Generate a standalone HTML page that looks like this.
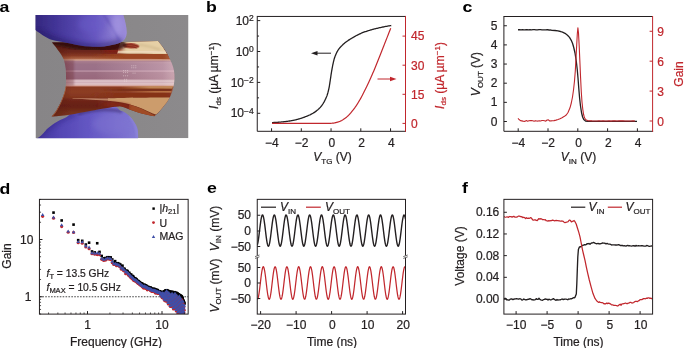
<!DOCTYPE html>
<html lang="en"><head><meta charset="utf-8"><title>Figure</title>
<style>
html,body{margin:0;padding:0;background:#fff;}
body{width:685px;height:348px;overflow:hidden;}
svg{display:block;font-family:"Liberation Sans",Arial,Helvetica,sans-serif;}
</style></head><body>
<svg width="685" height="348" viewBox="0 0 685 348">
<rect width="685" height="348" fill="#fff"/>
<defs>
<clipPath id="cpa"><rect x="35.5" y="15" width="153.0" height="123.19999999999999"/></clipPath>
<filter id="bl" x="-5%" y="-5%" width="110%" height="110%"><feGaussianBlur stdDeviation="0.65"/></filter>
<filter id="bl2" x="-30%" y="-30%" width="160%" height="160%"><feGaussianBlur stdDeviation="2.4"/></filter>
<filter id="bl3" x="-30%" y="-30%" width="160%" height="160%"><feGaussianBlur stdDeviation="1.0"/></filter>
<filter id="bl4" x="-30%" y="-30%" width="160%" height="160%"><feGaussianBlur stdDeviation="0.5"/></filter>
<linearGradient id="gbg" gradientUnits="userSpaceOnUse" x1="35" y1="0" x2="188" y2="0"><stop offset="0.0000" stop-color="#878587"/><stop offset="0.4902" stop-color="#898789"/><stop offset="1.0000" stop-color="#8c8a8c"/></linearGradient>
<linearGradient id="gf1" gradientUnits="userSpaceOnUse" x1="35" y1="0" x2="127" y2="0"><stop offset="0.0000" stop-color="#34287e"/><stop offset="0.2174" stop-color="#423496"/><stop offset="0.4457" stop-color="#5445ac"/><stop offset="0.6522" stop-color="#6757c0"/><stop offset="0.7935" stop-color="#7f70cc"/><stop offset="1.0000" stop-color="#9c8cda"/></linearGradient>
<linearGradient id="gf2" gradientUnits="userSpaceOnUse" x1="35" y1="0" x2="138" y2="0"><stop offset="0.0000" stop-color="#44369c"/><stop offset="0.2427" stop-color="#5446b4"/><stop offset="0.5340" stop-color="#6558c4"/><stop offset="0.7767" stop-color="#766acc"/><stop offset="1.0000" stop-color="#837ad4"/></linearGradient>
<linearGradient id="gfilm" gradientUnits="userSpaceOnUse" x1="0" y1="42" x2="0" y2="117"><stop offset="0.0000" stop-color="#581c16"/><stop offset="0.0533" stop-color="#602018"/><stop offset="0.1333" stop-color="#6e281c"/><stop offset="0.1800" stop-color="#863824"/><stop offset="0.2187" stop-color="#aa6040"/><stop offset="0.2387" stop-color="#d4a590"/><stop offset="0.2600" stop-color="#a87c8e"/><stop offset="0.2933" stop-color="#9c7288"/><stop offset="0.3733" stop-color="#9a7088"/><stop offset="0.3867" stop-color="#c29aaa"/><stop offset="0.4040" stop-color="#9c6e82"/><stop offset="0.4933" stop-color="#98687c"/><stop offset="0.5067" stop-color="#d6b8c0"/><stop offset="0.5333" stop-color="#dcc0c6"/><stop offset="0.5413" stop-color="#d0aeb8"/><stop offset="0.5520" stop-color="#dcc0c6"/><stop offset="0.5760" stop-color="#dcb8b8"/><stop offset="0.5867" stop-color="#cc8c7a"/><stop offset="0.6000" stop-color="#8a3a22"/><stop offset="0.6667" stop-color="#8c3c24"/><stop offset="0.7333" stop-color="#84361e"/><stop offset="0.7733" stop-color="#70261a"/><stop offset="0.8533" stop-color="#661f15"/><stop offset="0.9333" stop-color="#74301c"/><stop offset="1.0000" stop-color="#80341e"/></linearGradient>
<linearGradient id="gedge" gradientUnits="userSpaceOnUse" x1="52" x2="175" y1="0" y2="0"><stop offset="0" stop-color="#5a1c10" stop-opacity="0.6"/><stop offset="0.16" stop-color="#5a1c10" stop-opacity="0"/><stop offset="0.9" stop-color="#fff" stop-opacity="0"/><stop offset="1" stop-color="#ffe8d0" stop-opacity="0.2"/></linearGradient>
<linearGradient id="h1" gradientUnits="userSpaceOnUse" x1="120" x2="150" y1="0" y2="0"><stop offset="0" stop-color="#c48c5c" stop-opacity="0"/><stop offset="1" stop-color="#c48c5c" stop-opacity="0.9"/></linearGradient>
<linearGradient id="h2" gradientUnits="userSpaceOnUse" x1="100" x2="125" y1="0" y2="0"><stop offset="0" stop-color="#782e16" stop-opacity="0"/><stop offset="1" stop-color="#782e16" stop-opacity="0.85"/></linearGradient>
<linearGradient id="h3" gradientUnits="userSpaceOnUse" x1="125" x2="155" y1="0" y2="0"><stop offset="0" stop-color="#bc7444" stop-opacity="0"/><stop offset="1" stop-color="#bc7444" stop-opacity="0.9"/></linearGradient>
<linearGradient id="h4" gradientUnits="userSpaceOnUse" x1="90" x2="115" y1="0" y2="0"><stop offset="0" stop-color="#86321a" stop-opacity="0"/><stop offset="1" stop-color="#86321a" stop-opacity="0.9"/></linearGradient>
<linearGradient id="h5" gradientUnits="userSpaceOnUse" x1="92" x2="125" y1="0" y2="0"><stop offset="0" stop-color="#9c4620" stop-opacity="0"/><stop offset="1" stop-color="#9c4620" stop-opacity="1"/></linearGradient>
<linearGradient id="h6" gradientUnits="userSpaceOnUse" x1="96" x2="112" y1="0" y2="0"><stop offset="0" stop-color="#86281a" stop-opacity="0"/><stop offset="1" stop-color="#86281a" stop-opacity="0.9"/></linearGradient>
<linearGradient id="h7" gradientUnits="userSpaceOnUse" x1="95" x2="172" y1="0" y2="0"><stop offset="0" stop-color="#f0d0d8" stop-opacity="0"/><stop offset="1" stop-color="#f0d0d8" stop-opacity="0.42"/></linearGradient>
</defs>
<g clip-path="url(#cpa)">
<rect x="35.5" y="15" width="153.0" height="123.19999999999999" fill="url(#gbg)"/>
<g filter="url(#bl)">
<path d="M30,142 L30,141.5 C34,139.6 36.5,138.6 39,137.2 C42,135 44.5,132 47,129 C50,126.6 52.5,124.8 55,123 C58.5,120.8 62,119.2 65,118 C68,116.2 70,114.5 72,112 C80,109 90,106 100,104.5 C106,104 112,104.6 116,106.5 C118,108 119,109.6 120.2,110.5 C123.5,111.4 126,112.8 128.2,115 C130.8,117 132.6,119.4 134.2,122 C136,124.6 137.2,127 137.8,130 C138.2,133 138.2,136 138,142 Z" fill="url(#gf2)"/>
<clipPath id="cf2"><path d="M30,142 L30,141.5 C34,139.6 36.5,138.6 39,137.2 C42,135 44.5,132 47,129 C50,126.6 52.5,124.8 55,123 C58.5,120.8 62,119.2 65,118 C68,116.2 70,114.5 72,112 C80,109 90,106 100,104.5 C106,104 112,104.6 116,106.5 C118,108 119,109.6 120.2,110.5 C123.5,111.4 126,112.8 128.2,115 C130.8,117 132.6,119.4 134.2,122 C136,124.6 137.2,127 137.8,130 C138.2,133 138.2,136 138,142 Z"/></clipPath>
<g clip-path="url(#cf2)">
<path d="M34,140 C42,134 48,128 56,122.5 C62,119 68,116 76,114" stroke="#2e2280" stroke-width="4" fill="none" opacity="0.55" filter="url(#bl2)"/>
<ellipse cx="112" cy="124" rx="20" ry="10" fill="#8076d2" opacity="0.45" filter="url(#bl2)"/>
<path d="M130,116 C134,121 137,127 137.6,138" stroke="#9a92e0" stroke-width="2" fill="none" opacity="0.6" filter="url(#bl3)"/>
<path d="M78,114 C92,110 108,108.5 122,111.5" stroke="#32205c" stroke-width="3" fill="none" opacity="0.45" filter="url(#bl3)"/>
</g>
<path d="M52.1,42.5 L125,42 L158,41.1 C161.5,45.5 164,48.6 165.7,51.3 C167.4,54 168.4,56 169.2,58 C171.4,62 173.2,66 174,71 C174.8,76 174.6,81 173.6,86.2 C172.8,90 171.6,93.5 170.2,96.6 C168,101 166,103.5 164,105.8 C162,108.4 160,110.8 158.3,112.7 L154.3,116.2 C150,115.5 146,114.6 141.4,113.4 C137,112.2 133,110.8 130,109.8 C126,107.8 123,106.6 120,106.2 C116,106.4 112,107 108.8,107.7 C102,108.8 96,109.8 90,111 C83,112.2 77,113.6 71.4,114.6 C64,115.6 58,116.2 51.6,116.6 C53.5,114.6 55,112.6 56.4,110.5 C58.8,106.6 60.6,103 62,99.3 C64,94.5 65.2,90.4 65.8,86.2 C66.2,83.4 66.2,80.6 66,78 C66,75 66,72 65.8,69 C65.4,65.7 64.8,62.6 63.9,59.7 C62.6,56.4 60.6,53.4 58.3,50.4 C56.4,47.6 54.2,45 52.1,42.5 Z" fill="url(#gfilm)"/>
<clipPath id="cfilm"><path d="M52.1,42.5 L125,42 L158,41.1 C161.5,45.5 164,48.6 165.7,51.3 C167.4,54 168.4,56 169.2,58 C171.4,62 173.2,66 174,71 C174.8,76 174.6,81 173.6,86.2 C172.8,90 171.6,93.5 170.2,96.6 C168,101 166,103.5 164,105.8 C162,108.4 160,110.8 158.3,112.7 L154.3,116.2 C150,115.5 146,114.6 141.4,113.4 C137,112.2 133,110.8 130,109.8 C126,107.8 123,106.6 120,106.2 C116,106.4 112,107 108.8,107.7 C102,108.8 96,109.8 90,111 C83,112.2 77,113.6 71.4,114.6 C64,115.6 58,116.2 51.6,116.6 C53.5,114.6 55,112.6 56.4,110.5 C58.8,106.6 60.6,103 62,99.3 C64,94.5 65.2,90.4 65.8,86.2 C66.2,83.4 66.2,80.6 66,78 C66,75 66,72 65.8,69 C65.4,65.7 64.8,62.6 63.9,59.7 C62.6,56.4 60.6,53.4 58.3,50.4 C56.4,47.6 54.2,45 52.1,42.5 Z"/></clipPath>
<g clip-path="url(#cfilm)">
<path d="M121,40 L159,40 L167,54 C150,54 135,54 117,53.6 Z" fill="#e6d0a6" filter="url(#bl4)"/>
<path d="M104,45 L124,44 C122,47 121,50 122,53 L104,53 Z" fill="#861e18" opacity="0.8" filter="url(#bl2)"/>
<ellipse cx="131" cy="45.8" rx="8.6" ry="2.7" fill="#a2422e" transform="rotate(4 131 45.8)" filter="url(#bl4)"/>
<path d="M125,45 C129,44.2 134,44.6 138,46.4 M124.5,46.8 C129,46.2 133,46.6 136.5,48" stroke="#7c2418" stroke-width="0.9" fill="none" opacity="0.8" filter="url(#bl4)"/>
<path d="M139,44.6 C146,45.4 153,47 160,49.6" stroke="#c8b084" stroke-width="1.8" fill="none" opacity="0.7" filter="url(#bl3)"/>
<path d="M118,52 C135,51.4 150,51.6 166,52.4" stroke="#f0dcc0" stroke-width="1.6" fill="none" opacity="0.8" filter="url(#bl4)"/>
<path d="M88,54 C120,54 145,54 168,54 L170.5,59.2 C145,59 120,59 88,58.6 Z" fill="url(#h5)" filter="url(#bl4)"/>
<rect x="50" y="40" width="126" height="80" fill="url(#gedge)"/>
<path d="M120,86 L173,86 L172,88.8 L120,88.6 Z" fill="url(#h1)" filter="url(#bl4)"/>
<path d="M100,88.8 L172,88.8 L171.4,91 L100,91 Z" fill="url(#h2)" filter="url(#bl4)"/>
<path d="M125,91 L171.4,91 L171,92.8 L125,92.8 Z" fill="url(#h3)" filter="url(#bl4)"/>
<path d="M90,92.8 L171,92.8 L170,97.4 L90,97.6 Z" fill="url(#h4)" filter="url(#bl4)"/>
<path d="M108,98.2 C125,97.7 140,97.5 171,97.4 L165,105.8 L158.3,112.7 L156,114.6 C152,113.4 147,111 143,109 C139,107.2 134,105.4 130,104.4 C124,102.8 117,101.6 108,100.8 Z" fill="#cc9c6c" filter="url(#bl4)"/>
<path d="M129,104.6 C134,105.8 139,107.6 143,109.6 C147,111.6 151,113.6 155.5,116.4 C150,116 145,115 140,113.6 C136,112.4 132,110.8 128.5,109.4 Z" fill="#a04c28" filter="url(#bl4)"/>
<path d="M96,101 C112,101.4 122,102.6 130,104.6 L129,110 C122,106.6 112,106.6 96,108 Z" fill="url(#h6)" filter="url(#bl3)"/>
<path d="M72.5,97.9 C85,98.2 98,98.4 110,98.4 L110,100.8 C98,100.2 85,99.3 72.5,98.5 Z" fill="#c89070" opacity="0.85" filter="url(#bl4)"/>
<path d="M65.8,87 C65.2,91 64,95 62,99.6 C60.5,103.4 58.7,107 56.4,110.8 C55,113 53.4,115 51.6,116.8" stroke="#c07c50" stroke-width="1.1" fill="none" opacity="0.7" filter="url(#bl4)"/>
<path d="M95,61.5 L175,61.5 L175,79.5 L95,79.5 Z" fill="url(#h7)"/>
<path d="M60,59.5 L74,59.5 L74,86 L60,86 Z" fill="#6a2a30" opacity="0.35" filter="url(#bl3)"/>
<g fill="#f4e4e4" opacity="0.4">
<rect x="131.2" y="65.2" width="1.1" height="1.1"/>
<rect x="133.2" y="65.2" width="1.1" height="1.1"/>
<rect x="135.2" y="65.2" width="1.1" height="1.1"/>
<rect x="131.2" y="67.2" width="1.1" height="1.1"/>
<rect x="133.2" y="67.2" width="1.1" height="1.1"/>
<rect x="135.2" y="67.2" width="1.1" height="1.1"/>
<rect x="123" y="70" width="1.1" height="1.1"/>
<rect x="125" y="70" width="1.1" height="1.1"/>
<rect x="127" y="70" width="1.1" height="1.1"/>
<rect x="123" y="72" width="1.1" height="1.1"/>
<rect x="125" y="72" width="1.1" height="1.1"/>
<rect x="127" y="72" width="1.1" height="1.1"/>
<rect x="132.5" y="72.6" width="1.1" height="1.1"/>
<rect x="134.5" y="72.6" width="1.1" height="1.1"/>
<rect x="123" y="75.2" width="1.1" height="1.1"/>
<rect x="125" y="75.2" width="1.1" height="1.1"/>
<rect x="127" y="75.2" width="1.1" height="1.1"/>
<rect x="124" y="78.8" width="1.1" height="1.1"/>
<rect x="126" y="78.8" width="1.1" height="1.1"/>
<rect x="124" y="80.6" width="1.1" height="1.1"/>
<rect x="126" y="80.6" width="1.1" height="1.1"/>
</g>
<path d="M48,39.5 C58,41.2 66,42.8 74,44.6 C84,46.8 96,47.8 106,47.4 C114,47 120,45 125,42" stroke="#2a0e10" stroke-width="9" fill="none" opacity="0.75" filter="url(#bl3)"/>
</g>
<path d="M30,10 L121.8,10 C124.5,18 126.9,27 126.8,33 C126.4,37 125,39.6 122.7,41.2 C120,43 116.5,44.2 113,44.8 C110,45.6 107,46.2 104,46.5 C99,46.9 94.5,46.9 90,46.6 C83,46.2 77,45.2 71.4,43.8 C64.5,42.4 58.5,41.4 52.7,40.1 C49,38.8 46,37.2 43.3,35.4 C40.5,33.6 38,31.8 30,26 Z" fill="url(#gf1)"/>
<clipPath id="cf1"><path d="M30,10 L121.8,10 C124.5,18 126.9,27 126.8,33 C126.4,37 125,39.6 122.7,41.2 C120,43 116.5,44.2 113,44.8 C110,45.6 107,46.2 104,46.5 C99,46.9 94.5,46.9 90,46.6 C83,46.2 77,45.2 71.4,43.8 C64.5,42.4 58.5,41.4 52.7,40.1 C49,38.8 46,37.2 43.3,35.4 C40.5,33.6 38,31.8 30,26 Z"/></clipPath>
<g clip-path="url(#cf1)">
<path d="M36,31 C46,38 60,42 75,45 C90,47.6 106,47.6 122,42" stroke="#241860" stroke-width="7" fill="none" opacity="0.5" filter="url(#bl2)"/>
<ellipse cx="92" cy="24" rx="14" ry="9" fill="#6a5cc8" opacity="0.5" filter="url(#bl2)"/>
<path d="M103,14 C109,22 115,32 120,42" stroke="#5a4ab4" stroke-width="2.5" fill="none" opacity="0.55" filter="url(#bl3)"/>
<ellipse cx="117" cy="25" rx="6" ry="11" fill="#ac9ee6" opacity="0.55" filter="url(#bl2)"/>
</g>
</g>
</g>
<text x="-0.5" y="12" font-size="15" font-weight="bold" fill="#000" transform="translate(-0.5 0) scale(1.18 1) translate(0.5 0)">a</text>
<path d="M257.25,16.45 H405.5" stroke="#231f20" fill="none"/>
<path d="M257.25,15.95 V131.3 H406.0" stroke="#231f20" fill="none"/>
<path d="M405.5,15.95 V131.8" stroke="#c1272d" fill="none"/>
<line x1="257.25" y1="20.6" x2="260.25" y2="20.6" stroke="#231f20" stroke-width="1"/>
<text x="253.75" y="24.700000000000003" font-size="12" text-anchor="end" fill="#231f20" stroke="#231f20" stroke-width="0.22" >10<tspan font-size="8.5" dy="-3.6">2</tspan><tspan dy="3.6" font-size="1">&#8203;</tspan></text>
<line x1="257.25" y1="51.5" x2="260.25" y2="51.5" stroke="#231f20" stroke-width="1"/>
<text x="253.75" y="55.6" font-size="12" text-anchor="end" fill="#231f20" stroke="#231f20" stroke-width="0.22" >10<tspan font-size="8.5" dy="-3.6">0</tspan><tspan dy="3.6" font-size="1">&#8203;</tspan></text>
<line x1="257.25" y1="82.4" x2="260.25" y2="82.4" stroke="#231f20" stroke-width="1"/>
<text x="253.75" y="86.5" font-size="12" text-anchor="end" fill="#231f20" stroke="#231f20" stroke-width="0.22" >10<tspan font-size="8.5" dy="-3.6">&#8722;2</tspan><tspan dy="3.6" font-size="1">&#8203;</tspan></text>
<line x1="257.25" y1="113.3" x2="260.25" y2="113.3" stroke="#231f20" stroke-width="1"/>
<text x="253.75" y="117.39999999999999" font-size="12" text-anchor="end" fill="#231f20" stroke="#231f20" stroke-width="0.22" >10<tspan font-size="8.5" dy="-3.6">&#8722;4</tspan><tspan dy="3.6" font-size="1">&#8203;</tspan></text>
<line x1="257.25" y1="36.05" x2="259.05" y2="36.05" stroke="#231f20" stroke-width="1"/>
<line x1="257.25" y1="66.95" x2="259.05" y2="66.95" stroke="#231f20" stroke-width="1"/>
<line x1="257.25" y1="97.85" x2="259.05" y2="97.85" stroke="#231f20" stroke-width="1"/>
<line x1="271.55" y1="131.3" x2="271.55" y2="128.3" stroke="#231f20" stroke-width="1"/>
<text x="271.75" y="146.9" font-size="12" text-anchor="middle" fill="#231f20" stroke="#231f20" stroke-width="0.22" >&#8722;4</text>
<line x1="301.3" y1="131.3" x2="301.3" y2="128.3" stroke="#231f20" stroke-width="1"/>
<text x="301.5" y="146.9" font-size="12" text-anchor="middle" fill="#231f20" stroke="#231f20" stroke-width="0.22" >&#8722;2</text>
<line x1="331.05" y1="131.3" x2="331.05" y2="128.3" stroke="#231f20" stroke-width="1"/>
<text x="331.75" y="146.9" font-size="12" text-anchor="middle" fill="#231f20" stroke="#231f20" stroke-width="0.22" >0</text>
<line x1="360.8" y1="131.3" x2="360.8" y2="128.3" stroke="#231f20" stroke-width="1"/>
<text x="361.5" y="146.9" font-size="12" text-anchor="middle" fill="#231f20" stroke="#231f20" stroke-width="0.22" >2</text>
<line x1="390.55" y1="131.3" x2="390.55" y2="128.3" stroke="#231f20" stroke-width="1"/>
<text x="391.25" y="146.9" font-size="12" text-anchor="middle" fill="#231f20" stroke="#231f20" stroke-width="0.22" >4</text>
<line x1="405.5" y1="123.4" x2="402.5" y2="123.4" stroke="#c1272d" stroke-width="1"/>
<text x="411.0" y="127.7" font-size="12" text-anchor="start" fill="#c1272d" stroke="#c1272d" stroke-width="0.22" >0</text>
<line x1="405.5" y1="94.30000000000001" x2="402.5" y2="94.30000000000001" stroke="#c1272d" stroke-width="1"/>
<text x="411.0" y="98.60000000000001" font-size="12" text-anchor="start" fill="#c1272d" stroke="#c1272d" stroke-width="0.22" >15</text>
<line x1="405.5" y1="65.20000000000002" x2="402.5" y2="65.20000000000002" stroke="#c1272d" stroke-width="1"/>
<text x="411.0" y="69.50000000000001" font-size="12" text-anchor="start" fill="#c1272d" stroke="#c1272d" stroke-width="0.22" >30</text>
<line x1="405.5" y1="36.10000000000001" x2="402.5" y2="36.10000000000001" stroke="#c1272d" stroke-width="1"/>
<text x="411.0" y="40.400000000000006" font-size="12" text-anchor="start" fill="#c1272d" stroke="#c1272d" stroke-width="0.22" >45</text>
<path d="M272.00,122.60 L272.48,122.57 L273.10,122.54 L273.83,122.50 L274.65,122.45 L275.53,122.40 L276.45,122.35 L277.38,122.29 L278.30,122.23 L279.18,122.16 L280.00,122.10 L280.77,122.03 L281.55,121.96 L282.32,121.89 L283.08,121.82 L283.84,121.74 L284.60,121.66 L285.34,121.57 L286.07,121.48 L286.79,121.39 L287.50,121.30 L288.19,121.20 L288.87,121.11 L289.54,121.01 L290.20,120.91 L290.84,120.80 L291.48,120.69 L292.12,120.58 L292.75,120.46 L293.37,120.33 L294.00,120.20 L294.62,120.06 L295.25,119.91 L295.87,119.76 L296.48,119.60 L297.09,119.44 L297.70,119.27 L298.29,119.10 L298.87,118.93 L299.44,118.77 L300.00,118.60 L300.54,118.44 L301.06,118.27 L301.57,118.11 L302.07,117.95 L302.56,117.78 L303.05,117.61 L303.53,117.44 L304.02,117.27 L304.50,117.09 L305.00,116.90 L305.50,116.71 L306.02,116.51 L306.53,116.30 L307.05,116.09 L307.56,115.88 L308.07,115.67 L308.57,115.45 L309.06,115.23 L309.54,115.02 L310.00,114.80 L310.44,114.59 L310.87,114.37 L311.29,114.16 L311.70,113.95 L312.09,113.73 L312.48,113.51 L312.87,113.29 L313.25,113.07 L313.62,112.84 L314.00,112.60 L314.37,112.36 L314.73,112.12 L315.09,111.88 L315.44,111.63 L315.78,111.38 L316.12,111.12 L316.47,110.86 L316.81,110.58 L317.15,110.30 L317.50,110.00 L317.85,109.69 L318.21,109.37 L318.57,109.03 L318.94,108.69 L319.30,108.34 L319.65,107.98 L320.01,107.62 L320.35,107.25 L320.68,106.87 L321.00,106.50 L321.31,106.12 L321.61,105.74 L321.90,105.35 L322.18,104.96 L322.45,104.56 L322.72,104.16 L322.99,103.75 L323.24,103.34 L323.50,102.92 L323.75,102.50 L324.00,102.07 L324.24,101.62 L324.49,101.17 L324.72,100.71 L324.95,100.25 L325.18,99.79 L325.40,99.33 L325.61,98.88 L325.81,98.43 L326.00,98.00 L326.18,97.59 L326.35,97.20 L326.51,96.83 L326.65,96.46 L326.80,96.09 L326.94,95.72 L327.07,95.33 L327.21,94.92 L327.35,94.48 L327.50,94.00 L327.65,93.49 L327.80,92.96 L327.96,92.41 L328.11,91.84 L328.26,91.25 L328.41,90.64 L328.56,90.01 L328.71,89.36 L328.86,88.69 L329.00,88.00 L329.14,87.28 L329.27,86.53 L329.41,85.75 L329.54,84.94 L329.67,84.12 L329.80,83.30 L329.92,82.46 L330.05,81.63 L330.17,80.81 L330.30,80.00 L330.42,79.20 L330.54,78.40 L330.66,77.60 L330.77,76.80 L330.89,76.00 L331.00,75.20 L331.12,74.40 L331.24,73.60 L331.37,72.80 L331.50,72.00 L331.64,71.19 L331.78,70.37 L331.93,69.54 L332.08,68.70 L332.23,67.88 L332.39,67.06 L332.54,66.25 L332.70,65.47 L332.85,64.72 L333.00,64.00 L333.15,63.31 L333.29,62.66 L333.43,62.02 L333.58,61.41 L333.72,60.81 L333.86,60.23 L334.01,59.66 L334.17,59.10 L334.33,58.55 L334.50,58.00 L334.68,57.46 L334.86,56.92 L335.05,56.40 L335.24,55.89 L335.44,55.39 L335.64,54.89 L335.85,54.41 L336.06,53.93 L336.28,53.46 L336.50,53.00 L336.73,52.55 L336.95,52.10 L337.18,51.67 L337.42,51.24 L337.66,50.83 L337.90,50.41 L338.16,50.01 L338.43,49.60 L338.71,49.20 L339.00,48.80 L339.31,48.40 L339.64,48.00 L339.98,47.61 L340.33,47.21 L340.69,46.82 L341.05,46.44 L341.42,46.07 L341.78,45.70 L342.15,45.35 L342.50,45.00 L342.85,44.67 L343.19,44.34 L343.53,44.03 L343.88,43.73 L344.22,43.43 L344.56,43.14 L344.91,42.85 L345.27,42.57 L345.63,42.28 L346.00,42.00 L346.37,41.72 L346.74,41.45 L347.10,41.19 L347.47,40.94 L347.84,40.68 L348.23,40.42 L348.64,40.16 L349.06,39.89 L349.52,39.60 L350.00,39.30 L350.52,38.98 L351.06,38.64 L351.64,38.30 L352.23,37.94 L352.84,37.58 L353.47,37.21 L354.10,36.85 L354.74,36.49 L355.37,36.14 L356.00,35.80 L356.63,35.47 L357.27,35.14 L357.91,34.81 L358.56,34.49 L359.22,34.17 L359.88,33.86 L360.53,33.55 L361.19,33.26 L361.85,32.97 L362.50,32.70 L363.15,32.44 L363.81,32.19 L364.47,31.96 L365.12,31.73 L365.78,31.51 L366.44,31.30 L367.09,31.09 L367.73,30.89 L368.37,30.70 L369.00,30.50 L369.61,30.31 L370.20,30.13 L370.77,29.96 L371.34,29.79 L371.91,29.62 L372.48,29.46 L373.07,29.30 L373.68,29.14 L374.32,28.97 L375.00,28.80 L375.72,28.62 L376.47,28.44 L377.25,28.26 L378.04,28.07 L378.86,27.89 L379.69,27.70 L380.52,27.52 L381.35,27.34 L382.18,27.17 L383.00,27.00 L383.85,26.83 L384.77,26.66 L385.72,26.48 L386.68,26.31 L387.62,26.14 L388.53,25.98 L389.37,25.83 L390.12,25.70 L390.76,25.59 L391.25,25.50" stroke="#231f20" stroke-width="1.3" fill="none" stroke-linejoin="round"/>
<path d="M272.00,123.40 L273.68,123.40 L275.86,123.40 L278.44,123.40 L281.33,123.40 L284.44,123.40 L287.67,123.40 L290.94,123.40 L294.14,123.40 L297.20,123.40 L300.00,123.40 L302.71,123.40 L305.50,123.40 L308.32,123.40 L311.13,123.40 L313.88,123.41 L316.51,123.41 L318.99,123.41 L321.26,123.41 L323.28,123.40 L325.00,123.40 L326.38,123.40 L327.45,123.39 L328.26,123.39 L328.86,123.39 L329.31,123.38 L329.66,123.37 L329.95,123.36 L330.23,123.35 L330.57,123.33 L331.00,123.30 L331.48,123.27 L331.91,123.24 L332.32,123.21 L332.70,123.18 L333.06,123.14 L333.42,123.09 L333.79,123.04 L334.17,122.97 L334.57,122.89 L335.00,122.80 L335.46,122.69 L335.95,122.58 L336.46,122.45 L336.98,122.31 L337.50,122.16 L338.02,122.01 L338.54,121.84 L339.05,121.67 L339.54,121.49 L340.00,121.30 L340.44,121.10 L340.87,120.90 L341.29,120.68 L341.70,120.46 L342.09,120.22 L342.48,119.99 L342.87,119.74 L343.25,119.50 L343.62,119.25 L344.00,119.00 L344.37,118.75 L344.73,118.50 L345.09,118.25 L345.44,118.00 L345.78,117.74 L346.12,117.47 L346.47,117.20 L346.81,116.91 L347.15,116.61 L347.50,116.30 L347.85,115.98 L348.19,115.65 L348.53,115.31 L348.88,114.96 L349.22,114.60 L349.56,114.23 L349.91,113.84 L350.27,113.45 L350.63,113.03 L351.00,112.60 L351.38,112.15 L351.77,111.69 L352.16,111.21 L352.56,110.71 L352.97,110.21 L353.38,109.69 L353.78,109.15 L354.19,108.61 L354.60,108.06 L355.00,107.50 L355.40,106.93 L355.81,106.33 L356.22,105.72 L356.62,105.10 L357.03,104.47 L357.44,103.84 L357.84,103.20 L358.23,102.56 L358.62,101.93 L359.00,101.30 L359.37,100.68 L359.73,100.07 L360.08,99.46 L360.42,98.85 L360.77,98.24 L361.11,97.62 L361.45,96.99 L361.79,96.34 L362.14,95.68 L362.50,95.00 L362.86,94.29 L363.23,93.57 L363.61,92.83 L363.98,92.07 L364.36,91.30 L364.74,90.52 L365.12,89.74 L365.50,88.96 L365.87,88.18 L366.25,87.40 L366.62,86.64 L366.98,85.90 L367.34,85.17 L367.69,84.43 L368.05,83.69 L368.41,82.93 L368.78,82.14 L369.17,81.32 L369.57,80.44 L370.00,79.50 L370.45,78.50 L370.92,77.45 L371.41,76.35 L371.91,75.21 L372.42,74.04 L372.94,72.84 L373.46,71.64 L373.98,70.42 L374.49,69.21 L375.00,68.00 L375.50,66.79 L376.00,65.57 L376.50,64.33 L377.00,63.08 L377.50,61.82 L378.00,60.56 L378.50,59.30 L379.00,58.03 L379.50,56.76 L380.00,55.50 L380.50,54.25 L380.99,53.00 L381.48,51.76 L381.96,50.53 L382.45,49.28 L382.95,48.03 L383.44,46.76 L383.95,45.46 L384.47,44.15 L385.00,42.80 L385.57,41.35 L386.19,39.77 L386.85,38.10 L387.52,36.40 L388.19,34.71 L388.83,33.08 L389.42,31.57 L389.96,30.22 L390.40,29.08 L390.75,28.20" stroke="#c1272d" stroke-width="1.2" fill="none" stroke-linejoin="round"/>
<path d="M331,53.2 H315" stroke="#231f20" stroke-width="1" fill="none"/>
<path d="M311,53.2 L317.5,51.0 L317.5,55.400000000000006 Z" fill="#231f20"/>
<path d="M377.5,79 H392.5" stroke="#c1272d" stroke-width="1" fill="none"/>
<path d="M396.5,79 L390.0,76.8 L390.0,81.2 Z" fill="#c1272d"/>
<text x="218" y="75.5" font-size="12" text-anchor="middle" fill="#231f20" stroke="#231f20" stroke-width="0.22" transform="rotate(-90 218 75.5)" ><tspan font-style="italic">I</tspan><tspan font-size="8" dy="2.8">ds</tspan><tspan dy="-2.8" font-size="1">&#8203;</tspan> (&#181;A &#181;m<tspan font-size="8" dy="-3.6">&#8722;1</tspan><tspan dy="3.6" font-size="1">&#8203;</tspan>)</text>
<text x="443.7" y="75.5" font-size="12" text-anchor="middle" fill="#c1272d" stroke="#c1272d" stroke-width="0.22" transform="rotate(-90 443.7 75.5)" ><tspan font-style="italic">I</tspan><tspan font-size="8" dy="2.8">ds</tspan><tspan dy="-2.8" font-size="1">&#8203;</tspan> (&#181;A &#181;m<tspan font-size="8" dy="-3.6">&#8722;1</tspan><tspan dy="3.6" font-size="1">&#8203;</tspan>)</text>
<text x="332.5" y="160.8" font-size="12" text-anchor="middle" fill="#231f20" stroke="#231f20" stroke-width="0.22" ><tspan font-style="italic">V</tspan><tspan font-size="8" dy="2.8">TG</tspan><tspan dy="-2.8" font-size="1">&#8203;</tspan> (V)</text>
<text x="206" y="12" font-size="15" font-weight="bold" fill="#000" transform="translate(206 0) scale(1.18 1) translate(-206 0)">b</text>
<path d="M503.9,16.5 H652.6" stroke="#231f20" fill="none"/>
<path d="M503.9,16.0 V131.3 H653.1" stroke="#231f20" fill="none"/>
<path d="M652.6,16.0 V131.8" stroke="#c1272d" fill="none"/>
<line x1="503.9" y1="121.5" x2="506.9" y2="121.5" stroke="#231f20" stroke-width="1"/>
<text x="497.4" y="125.6" font-size="12" text-anchor="end" fill="#231f20" stroke="#231f20" stroke-width="0.22" >0</text>
<line x1="503.9" y1="102.35" x2="506.9" y2="102.35" stroke="#231f20" stroke-width="1"/>
<text x="497.4" y="106.44999999999999" font-size="12" text-anchor="end" fill="#231f20" stroke="#231f20" stroke-width="0.22" >1</text>
<line x1="503.9" y1="83.2" x2="506.9" y2="83.2" stroke="#231f20" stroke-width="1"/>
<text x="497.4" y="87.3" font-size="12" text-anchor="end" fill="#231f20" stroke="#231f20" stroke-width="0.22" >2</text>
<line x1="503.9" y1="64.05000000000001" x2="506.9" y2="64.05000000000001" stroke="#231f20" stroke-width="1"/>
<text x="497.4" y="68.15" font-size="12" text-anchor="end" fill="#231f20" stroke="#231f20" stroke-width="0.22" >3</text>
<line x1="503.9" y1="44.900000000000006" x2="506.9" y2="44.900000000000006" stroke="#231f20" stroke-width="1"/>
<text x="497.4" y="49.00000000000001" font-size="12" text-anchor="end" fill="#231f20" stroke="#231f20" stroke-width="0.22" >4</text>
<line x1="503.9" y1="25.75" x2="506.9" y2="25.75" stroke="#231f20" stroke-width="1"/>
<text x="497.4" y="29.85" font-size="12" text-anchor="end" fill="#231f20" stroke="#231f20" stroke-width="0.22" >5</text>
<line x1="518.1999999999999" y1="131.3" x2="518.1999999999999" y2="128.3" stroke="#231f20" stroke-width="1"/>
<text x="518.4" y="146.9" font-size="12" text-anchor="middle" fill="#231f20" stroke="#231f20" stroke-width="0.22" >&#8722;4</text>
<line x1="548.0" y1="131.3" x2="548.0" y2="128.3" stroke="#231f20" stroke-width="1"/>
<text x="548.2" y="146.9" font-size="12" text-anchor="middle" fill="#231f20" stroke="#231f20" stroke-width="0.22" >&#8722;2</text>
<line x1="577.8" y1="131.3" x2="577.8" y2="128.3" stroke="#231f20" stroke-width="1"/>
<text x="578.5" y="146.9" font-size="12" text-anchor="middle" fill="#231f20" stroke="#231f20" stroke-width="0.22" >0</text>
<line x1="607.5999999999999" y1="131.3" x2="607.5999999999999" y2="128.3" stroke="#231f20" stroke-width="1"/>
<text x="608.3" y="146.9" font-size="12" text-anchor="middle" fill="#231f20" stroke="#231f20" stroke-width="0.22" >2</text>
<line x1="637.4" y1="131.3" x2="637.4" y2="128.3" stroke="#231f20" stroke-width="1"/>
<text x="638.1" y="146.9" font-size="12" text-anchor="middle" fill="#231f20" stroke="#231f20" stroke-width="0.22" >4</text>
<line x1="652.6" y1="121.0" x2="649.6" y2="121.0" stroke="#c1272d" stroke-width="1"/>
<text x="657.3000000000001" y="125.5" font-size="12" text-anchor="start" fill="#c1272d" stroke="#c1272d" stroke-width="0.22" >0</text>
<line x1="652.6" y1="91.09" x2="649.6" y2="91.09" stroke="#c1272d" stroke-width="1"/>
<text x="657.3000000000001" y="95.59" font-size="12" text-anchor="start" fill="#c1272d" stroke="#c1272d" stroke-width="0.22" >3</text>
<line x1="652.6" y1="61.17999999999999" x2="649.6" y2="61.17999999999999" stroke="#c1272d" stroke-width="1"/>
<text x="657.3000000000001" y="65.67999999999999" font-size="12" text-anchor="start" fill="#c1272d" stroke="#c1272d" stroke-width="0.22" >6</text>
<line x1="652.6" y1="31.269999999999996" x2="649.6" y2="31.269999999999996" stroke="#c1272d" stroke-width="1"/>
<text x="657.3000000000001" y="35.769999999999996" font-size="12" text-anchor="start" fill="#c1272d" stroke="#c1272d" stroke-width="0.22" >9</text>
<path d="M518.00,29.75 L519.50,29.70 L521.00,29.85 L522.50,29.67 L524.00,29.81 L525.50,29.76 L527.00,29.67 L528.50,29.80 L530.00,29.66 L531.50,29.78 L533.00,29.67 L534.50,29.68 L536.00,29.78 L537.50,29.90 L539.00,29.69 L540.50,29.72 L542.00,29.84 L543.50,29.93 L545.00,29.82 L546.50,29.77 L548.00,29.60 L549.00,30.20 L550.00,29.90 L552.00,30.40 L555.00,30.50 L558.00,30.90 L560.50,31.50 L562.50,32.20 L565.00,33.30 L567.50,35.20 L569.50,37.40 L571.25,40.30 L572.60,43.50 L573.75,47.50 L575.00,53.00 L576.25,61.00 L577.20,69.00 L578.00,78.00 L578.75,88.00 L579.60,98.00 L580.50,106.00 L581.50,112.50 L582.60,117.00 L583.75,119.60 L585.50,121.00 L588.00,121.40 L600.00,121.40 L637.00,121.30" stroke="#231f20" stroke-width="1.3" fill="none" stroke-linejoin="round"/>
<path d="M518.00,118.30 L519.00,119.50 L520.50,120.60 L523.00,121.10 L525.00,121.38 L526.30,120.54 L527.60,121.27 L528.90,120.76 L530.20,120.63 L531.50,120.61 L532.80,120.78 L534.10,121.23 L535.40,120.66 L536.70,121.02 L538.00,121.08 L539.30,120.84 L540.60,120.99 L541.90,120.56 L543.20,120.55 L544.50,120.69 L545.80,121.11 L547.10,119.98 L548.40,119.88 L549.70,121.03 L551.00,120.91 L552.30,120.77 L554.00,120.60 L556.00,120.10 L558.00,119.50 L560.00,118.70 L562.00,117.70 L564.00,116.60 L566.25,115.00 L568.00,112.50 L570.00,107.80 L571.30,103.00 L572.50,97.00 L573.50,90.00 L574.50,81.00 L575.30,71.00 L576.00,58.00 L576.70,45.00 L577.30,34.00 L577.90,27.70 L578.50,33.00 L579.20,46.00 L579.90,62.00 L580.60,78.00 L581.30,92.00 L582.00,102.00 L582.75,109.00 L583.60,114.50 L584.50,117.80 L585.80,119.80 L587.50,120.60 L592.00,120.90 L595.00,121.02 L597.00,120.98 L599.00,120.80 L601.00,120.93 L603.00,120.91 L605.00,121.05 L607.00,120.99 L609.00,120.82 L611.00,121.09 L613.00,120.75 L615.00,120.87 L617.00,121.00 L619.00,120.76 L621.00,120.90 L623.00,120.72 L625.00,120.97 L627.00,121.01 L629.00,120.93 L631.00,121.05 L633.00,120.83 L635.00,120.98" stroke="#c1272d" stroke-width="1.1" fill="none" stroke-linejoin="round"/>
<text x="480" y="74" font-size="12" text-anchor="middle" fill="#231f20" stroke="#231f20" stroke-width="0.22" transform="rotate(-90 480 74)" ><tspan font-style="italic">V</tspan><tspan font-size="8" dy="2.8">OUT</tspan><tspan dy="-2.8" font-size="1">&#8203;</tspan> (V)</text>
<text x="682.6" y="74" font-size="12" text-anchor="middle" fill="#c1272d" stroke="#c1272d" stroke-width="0.22" transform="rotate(-90 682.6 74)" >Gain</text>
<text x="578.5" y="160.8" font-size="12" text-anchor="middle" fill="#231f20" stroke="#231f20" stroke-width="0.22" ><tspan font-style="italic">V</tspan><tspan font-size="8" dy="2.8">IN</tspan><tspan dy="-2.8" font-size="1">&#8203;</tspan> (V)</text>
<text x="462.5" y="12" font-size="15" font-weight="bold" fill="#000" transform="translate(462.5 0) scale(1.18 1) translate(-462.5 0)">c</text>
<clipPath id="cd"><rect x="39.45" y="199.35" width="148.7" height="114.75000000000003"/></clipPath>
<path d="M39.45,296.75 H188.15" stroke="#333" stroke-width="0.9" stroke-dasharray="1.6 1.3" fill="none"/>
<g clip-path="url(#cd)"><g fill="#000"><rect x="52.23" y="211.30" width="2.6" height="2.6"/><rect x="60.36" y="219.17" width="2.6" height="2.6"/><rect x="72.26" y="223.31" width="2.6" height="2.6"/><rect x="76.89" y="238.88" width="2.6" height="2.6"/><rect x="80.94" y="239.55" width="2.6" height="2.6"/><rect x="84.54" y="243.26" width="2.6" height="2.6"/><rect x="87.78" y="241.38" width="2.6" height="2.6"/><rect x="90.72" y="250.14" width="2.6" height="2.6"/><rect x="93.42" y="251.11" width="2.6" height="2.6"/><rect x="95.91" y="241.95" width="2.6" height="2.6"/><rect x="98.22" y="250.60" width="2.6" height="2.6"/><rect x="100.38" y="254.63" width="2.6" height="2.6"/><rect x="102.40" y="257.04" width="2.6" height="2.6"/><rect x="104.31" y="256.69" width="2.6" height="2.6"/><rect x="106.10" y="255.93" width="2.6" height="2.6"/><rect x="107.81" y="255.95" width="2.6" height="2.6"/><rect x="109.43" y="256.11" width="2.6" height="2.6"/><rect x="110.97" y="258.17" width="2.6" height="2.6"/><rect x="112.44" y="261.31" width="2.6" height="2.6"/><rect x="113.84" y="259.85" width="2.6" height="2.6"/><rect x="115.19" y="262.00" width="2.6" height="2.6"/><rect x="116.49" y="261.92" width="2.6" height="2.6"/><rect x="117.73" y="262.46" width="2.6" height="2.6"/><rect x="118.93" y="263.11" width="2.6" height="2.6"/><rect x="120.09" y="264.64" width="2.6" height="2.6"/><rect x="121.20" y="264.44" width="2.6" height="2.6"/><rect x="122.28" y="267.40" width="2.6" height="2.6"/><rect x="123.32" y="267.56" width="2.6" height="2.6"/><rect x="124.34" y="269.59" width="2.6" height="2.6"/><rect x="125.32" y="269.37" width="2.6" height="2.6"/><rect x="126.27" y="269.78" width="2.6" height="2.6"/><rect x="127.19" y="271.60" width="2.6" height="2.6"/><rect x="128.09" y="271.59" width="2.6" height="2.6"/><rect x="128.97" y="273.70" width="2.6" height="2.6"/><rect x="129.82" y="273.18" width="2.6" height="2.6"/><rect x="130.65" y="274.61" width="2.6" height="2.6"/><rect x="131.46" y="274.80" width="2.6" height="2.6"/><rect x="132.24" y="275.52" width="2.6" height="2.6"/><rect x="133.01" y="277.51" width="2.6" height="2.6"/><rect x="133.77" y="276.92" width="2.6" height="2.6"/><rect x="134.50" y="277.51" width="2.6" height="2.6"/><rect x="135.22" y="278.00" width="2.6" height="2.6"/><rect x="135.93" y="279.33" width="2.6" height="2.6"/><rect x="136.61" y="279.66" width="2.6" height="2.6"/><rect x="137.29" y="279.93" width="2.6" height="2.6"/><rect x="137.95" y="280.80" width="2.6" height="2.6"/><rect x="138.60" y="280.90" width="2.6" height="2.6"/><rect x="139.23" y="281.71" width="2.6" height="2.6"/><rect x="139.85" y="282.35" width="2.6" height="2.6"/><rect x="140.46" y="282.23" width="2.6" height="2.6"/><rect x="141.06" y="282.43" width="2.6" height="2.6"/><rect x="141.65" y="283.70" width="2.6" height="2.6"/><rect x="142.23" y="284.38" width="2.6" height="2.6"/><rect x="142.80" y="283.47" width="2.6" height="2.6"/><rect x="143.35" y="283.65" width="2.6" height="2.6"/><rect x="143.90" y="284.46" width="2.6" height="2.6"/><rect x="144.44" y="284.17" width="2.6" height="2.6"/><rect x="144.97" y="284.72" width="2.6" height="2.6"/><rect x="145.49" y="284.74" width="2.6" height="2.6"/><rect x="146.01" y="285.59" width="2.6" height="2.6"/><rect x="146.51" y="285.95" width="2.6" height="2.6"/><rect x="147.01" y="285.57" width="2.6" height="2.6"/><rect x="147.50" y="286.31" width="2.6" height="2.6"/><rect x="147.98" y="286.39" width="2.6" height="2.6"/><rect x="148.46" y="286.69" width="2.6" height="2.6"/><rect x="148.93" y="286.52" width="2.6" height="2.6"/><rect x="149.39" y="286.37" width="2.6" height="2.6"/><rect x="149.85" y="286.87" width="2.6" height="2.6"/><rect x="150.30" y="287.51" width="2.6" height="2.6"/><rect x="150.74" y="287.58" width="2.6" height="2.6"/><rect x="151.18" y="288.02" width="2.6" height="2.6"/><rect x="151.61" y="287.83" width="2.6" height="2.6"/><rect x="152.03" y="287.81" width="2.6" height="2.6"/><rect x="152.45" y="288.03" width="2.6" height="2.6"/><rect x="152.87" y="287.46" width="2.6" height="2.6"/><rect x="153.28" y="287.96" width="2.6" height="2.6"/><rect x="153.68" y="288.64" width="2.6" height="2.6"/><rect x="154.08" y="288.97" width="2.6" height="2.6"/><rect x="154.48" y="288.30" width="2.6" height="2.6"/><rect x="154.87" y="289.31" width="2.6" height="2.6"/><rect x="155.25" y="288.49" width="2.6" height="2.6"/><rect x="155.63" y="289.62" width="2.6" height="2.6"/><rect x="156.01" y="289.15" width="2.6" height="2.6"/><rect x="156.38" y="288.83" width="2.6" height="2.6"/><rect x="156.75" y="289.86" width="2.6" height="2.6"/><rect x="157.11" y="290.07" width="2.6" height="2.6"/><rect x="157.47" y="289.92" width="2.6" height="2.6"/><rect x="157.83" y="289.94" width="2.6" height="2.6"/><rect x="158.18" y="290.07" width="2.6" height="2.6"/><rect x="158.53" y="290.34" width="2.6" height="2.6"/><rect x="158.87" y="290.62" width="2.6" height="2.6"/><rect x="159.21" y="291.81" width="2.6" height="2.6"/><rect x="159.55" y="290.57" width="2.6" height="2.6"/><rect x="159.88" y="291.01" width="2.6" height="2.6"/><rect x="160.21" y="291.49" width="2.6" height="2.6"/><rect x="160.54" y="291.05" width="2.6" height="2.6"/><rect x="160.86" y="291.43" width="2.6" height="2.6"/><rect x="161.18" y="290.90" width="2.6" height="2.6"/><rect x="161.50" y="291.43" width="2.6" height="2.6"/><rect x="161.81" y="291.50" width="2.6" height="2.6"/><rect x="162.12" y="290.81" width="2.6" height="2.6"/><rect x="162.43" y="290.42" width="2.6" height="2.6"/><rect x="162.74" y="291.14" width="2.6" height="2.6"/><rect x="163.04" y="290.42" width="2.6" height="2.6"/><rect x="163.34" y="290.19" width="2.6" height="2.6"/><rect x="163.64" y="290.10" width="2.6" height="2.6"/><rect x="163.93" y="289.31" width="2.6" height="2.6"/><rect x="164.22" y="290.22" width="2.6" height="2.6"/><rect x="164.51" y="289.17" width="2.6" height="2.6"/><rect x="164.80" y="290.05" width="2.6" height="2.6"/><rect x="165.08" y="289.06" width="2.6" height="2.6"/><rect x="165.36" y="288.97" width="2.6" height="2.6"/><rect x="165.64" y="288.96" width="2.6" height="2.6"/><rect x="165.92" y="289.27" width="2.6" height="2.6"/><rect x="166.19" y="290.13" width="2.6" height="2.6"/><rect x="166.46" y="289.83" width="2.6" height="2.6"/><rect x="166.73" y="289.64" width="2.6" height="2.6"/><rect x="167.00" y="289.86" width="2.6" height="2.6"/><rect x="167.27" y="290.15" width="2.6" height="2.6"/><rect x="167.53" y="290.61" width="2.6" height="2.6"/><rect x="167.79" y="290.04" width="2.6" height="2.6"/><rect x="168.05" y="290.07" width="2.6" height="2.6"/><rect x="168.31" y="291.41" width="2.6" height="2.6"/><rect x="168.56" y="290.77" width="2.6" height="2.6"/><rect x="168.81" y="290.95" width="2.6" height="2.6"/><rect x="169.06" y="290.71" width="2.6" height="2.6"/><rect x="169.31" y="290.80" width="2.6" height="2.6"/><rect x="169.56" y="291.27" width="2.6" height="2.6"/><rect x="169.81" y="290.90" width="2.6" height="2.6"/><rect x="170.05" y="291.50" width="2.6" height="2.6"/><rect x="170.29" y="290.72" width="2.6" height="2.6"/><rect x="170.53" y="291.01" width="2.6" height="2.6"/><rect x="170.77" y="291.06" width="2.6" height="2.6"/><rect x="171.00" y="290.60" width="2.6" height="2.6"/><rect x="171.24" y="290.85" width="2.6" height="2.6"/><rect x="171.47" y="291.19" width="2.6" height="2.6"/><rect x="171.70" y="291.50" width="2.6" height="2.6"/><rect x="171.93" y="291.30" width="2.6" height="2.6"/><rect x="172.16" y="291.14" width="2.6" height="2.6"/><rect x="172.39" y="291.06" width="2.6" height="2.6"/><rect x="172.61" y="291.94" width="2.6" height="2.6"/><rect x="172.83" y="291.50" width="2.6" height="2.6"/><rect x="173.05" y="291.76" width="2.6" height="2.6"/><rect x="173.28" y="291.17" width="2.6" height="2.6"/><rect x="173.49" y="290.92" width="2.6" height="2.6"/><rect x="173.71" y="291.77" width="2.6" height="2.6"/><rect x="173.93" y="291.89" width="2.6" height="2.6"/><rect x="174.14" y="292.16" width="2.6" height="2.6"/><rect x="174.35" y="291.69" width="2.6" height="2.6"/><rect x="174.57" y="292.53" width="2.6" height="2.6"/><rect x="174.78" y="292.08" width="2.6" height="2.6"/><rect x="174.98" y="291.69" width="2.6" height="2.6"/><rect x="175.19" y="292.12" width="2.6" height="2.6"/><rect x="175.40" y="291.78" width="2.6" height="2.6"/><rect x="175.60" y="293.10" width="2.6" height="2.6"/><rect x="175.81" y="292.44" width="2.6" height="2.6"/><rect x="176.01" y="292.68" width="2.6" height="2.6"/><rect x="176.21" y="292.14" width="2.6" height="2.6"/><rect x="176.41" y="293.15" width="2.6" height="2.6"/><rect x="176.61" y="293.14" width="2.6" height="2.6"/><rect x="176.80" y="293.95" width="2.6" height="2.6"/><rect x="177.00" y="294.14" width="2.6" height="2.6"/><rect x="177.20" y="293.03" width="2.6" height="2.6"/><rect x="177.39" y="293.55" width="2.6" height="2.6"/><rect x="177.58" y="293.34" width="2.6" height="2.6"/><rect x="177.77" y="293.71" width="2.6" height="2.6"/><rect x="177.96" y="293.94" width="2.6" height="2.6"/><rect x="178.15" y="293.86" width="2.6" height="2.6"/><rect x="178.34" y="294.06" width="2.6" height="2.6"/><rect x="178.53" y="294.00" width="2.6" height="2.6"/><rect x="178.71" y="294.02" width="2.6" height="2.6"/><rect x="178.90" y="294.58" width="2.6" height="2.6"/><rect x="179.08" y="294.43" width="2.6" height="2.6"/><rect x="179.27" y="295.48" width="2.6" height="2.6"/><rect x="179.45" y="295.63" width="2.6" height="2.6"/><rect x="179.63" y="294.83" width="2.6" height="2.6"/><rect x="179.81" y="294.82" width="2.6" height="2.6"/><rect x="179.99" y="295.09" width="2.6" height="2.6"/><rect x="180.16" y="295.46" width="2.6" height="2.6"/><rect x="180.34" y="295.73" width="2.6" height="2.6"/><rect x="180.52" y="295.61" width="2.6" height="2.6"/><rect x="180.69" y="295.91" width="2.6" height="2.6"/><rect x="180.87" y="296.53" width="2.6" height="2.6"/><rect x="181.04" y="296.81" width="2.6" height="2.6"/><rect x="181.21" y="297.21" width="2.6" height="2.6"/><rect x="181.38" y="297.99" width="2.6" height="2.6"/><rect x="181.55" y="298.77" width="2.6" height="2.6"/><rect x="181.72" y="299.36" width="2.6" height="2.6"/><rect x="181.89" y="299.57" width="2.6" height="2.6"/><rect x="182.06" y="299.64" width="2.6" height="2.6"/><rect x="182.22" y="300.27" width="2.6" height="2.6"/><rect x="182.39" y="299.92" width="2.6" height="2.6"/><rect x="182.56" y="301.54" width="2.6" height="2.6"/><rect x="182.72" y="301.16" width="2.6" height="2.6"/><rect x="182.88" y="301.72" width="2.6" height="2.6"/><rect x="183.05" y="302.31" width="2.6" height="2.6"/></g><g fill="#c1272d"><circle cx="42.65" cy="216.36" r="1.55"/><circle cx="53.53" cy="218.17" r="1.55"/><circle cx="61.66" cy="226.60" r="1.55"/><circle cx="68.16" cy="232.14" r="1.55"/><circle cx="73.56" cy="232.41" r="1.55"/><circle cx="78.19" cy="242.64" r="1.55"/><circle cx="82.24" cy="243.31" r="1.55"/><circle cx="85.84" cy="246.92" r="1.55"/><circle cx="89.08" cy="248.79" r="1.55"/><circle cx="92.02" cy="253.72" r="1.55"/><circle cx="94.72" cy="254.14" r="1.55"/><circle cx="97.21" cy="254.60" r="1.55"/><circle cx="99.52" cy="254.82" r="1.55"/><circle cx="101.68" cy="259.35" r="1.55"/><circle cx="103.70" cy="260.38" r="1.55"/><circle cx="105.61" cy="260.12" r="1.55"/><circle cx="107.40" cy="258.90" r="1.55"/><circle cx="109.11" cy="259.11" r="1.55"/><circle cx="110.73" cy="259.74" r="1.55"/><circle cx="112.27" cy="262.77" r="1.55"/><circle cx="113.74" cy="264.47" r="1.55"/><circle cx="115.14" cy="264.38" r="1.55"/><circle cx="116.49" cy="265.73" r="1.55"/><circle cx="117.79" cy="265.53" r="1.55"/><circle cx="119.03" cy="266.12" r="1.55"/><circle cx="120.23" cy="267.12" r="1.55"/><circle cx="121.39" cy="269.16" r="1.55"/><circle cx="122.50" cy="269.05" r="1.55"/><circle cx="123.58" cy="270.78" r="1.55"/><circle cx="124.62" cy="270.93" r="1.55"/><circle cx="125.64" cy="273.79" r="1.55"/><circle cx="126.62" cy="272.76" r="1.55"/><circle cx="127.57" cy="273.51" r="1.55"/><circle cx="128.49" cy="275.22" r="1.55"/><circle cx="129.39" cy="275.86" r="1.55"/><circle cx="130.27" cy="276.95" r="1.55"/><circle cx="131.12" cy="277.63" r="1.55"/><circle cx="131.95" cy="278.42" r="1.55"/><circle cx="132.76" cy="279.08" r="1.55"/><circle cx="133.54" cy="280.14" r="1.55"/><circle cx="134.31" cy="280.75" r="1.55"/><circle cx="135.07" cy="280.62" r="1.55"/><circle cx="135.80" cy="281.61" r="1.55"/><circle cx="136.52" cy="281.37" r="1.55"/><circle cx="137.23" cy="282.59" r="1.55"/><circle cx="137.91" cy="283.29" r="1.55"/><circle cx="138.59" cy="283.56" r="1.55"/><circle cx="139.25" cy="284.25" r="1.55"/><circle cx="139.90" cy="284.20" r="1.55"/><circle cx="140.53" cy="285.14" r="1.55"/><circle cx="141.15" cy="285.56" r="1.55"/><circle cx="141.76" cy="286.08" r="1.55"/><circle cx="142.36" cy="286.46" r="1.55"/><circle cx="142.95" cy="287.16" r="1.55"/><circle cx="143.53" cy="287.90" r="1.55"/><circle cx="144.10" cy="287.87" r="1.55"/><circle cx="144.65" cy="287.63" r="1.55"/><circle cx="145.20" cy="287.63" r="1.55"/><circle cx="145.74" cy="288.17" r="1.55"/><circle cx="146.27" cy="288.46" r="1.55"/><circle cx="146.79" cy="288.04" r="1.55"/><circle cx="147.31" cy="289.87" r="1.55"/><circle cx="147.81" cy="289.57" r="1.55"/><circle cx="148.31" cy="289.46" r="1.55"/><circle cx="148.80" cy="289.37" r="1.55"/><circle cx="149.28" cy="289.51" r="1.55"/><circle cx="149.76" cy="289.87" r="1.55"/><circle cx="150.23" cy="289.89" r="1.55"/><circle cx="150.69" cy="290.41" r="1.55"/><circle cx="151.15" cy="290.58" r="1.55"/><circle cx="151.60" cy="291.29" r="1.55"/><circle cx="152.04" cy="291.31" r="1.55"/><circle cx="152.48" cy="291.21" r="1.55"/><circle cx="152.91" cy="291.56" r="1.55"/><circle cx="153.33" cy="291.52" r="1.55"/><circle cx="153.75" cy="291.18" r="1.55"/><circle cx="154.17" cy="291.38" r="1.55"/><circle cx="154.58" cy="291.46" r="1.55"/><circle cx="154.98" cy="292.32" r="1.55"/><circle cx="155.38" cy="293.02" r="1.55"/><circle cx="155.78" cy="291.91" r="1.55"/><circle cx="156.17" cy="292.91" r="1.55"/><circle cx="156.55" cy="292.39" r="1.55"/><circle cx="156.93" cy="292.78" r="1.55"/><circle cx="157.31" cy="292.48" r="1.55"/><circle cx="157.68" cy="293.01" r="1.55"/><circle cx="158.05" cy="293.21" r="1.55"/><circle cx="158.41" cy="293.45" r="1.55"/><circle cx="158.77" cy="293.27" r="1.55"/><circle cx="159.13" cy="292.93" r="1.55"/><circle cx="159.48" cy="293.31" r="1.55"/><circle cx="159.83" cy="293.51" r="1.55"/><circle cx="160.17" cy="293.98" r="1.55"/><circle cx="160.51" cy="293.75" r="1.55"/><circle cx="160.85" cy="294.72" r="1.55"/><circle cx="161.18" cy="296.07" r="1.55"/><circle cx="161.51" cy="294.26" r="1.55"/><circle cx="161.84" cy="295.86" r="1.55"/><circle cx="162.16" cy="297.77" r="1.55"/><circle cx="162.48" cy="295.11" r="1.55"/><circle cx="162.80" cy="297.17" r="1.55"/><circle cx="163.11" cy="293.98" r="1.55"/><circle cx="163.42" cy="296.23" r="1.55"/><circle cx="163.73" cy="298.74" r="1.55"/><circle cx="164.04" cy="294.79" r="1.55"/><circle cx="164.34" cy="297.51" r="1.55"/><circle cx="164.64" cy="300.59" r="1.55"/><circle cx="164.94" cy="295.84" r="1.55"/><circle cx="165.23" cy="299.16" r="1.55"/><circle cx="165.52" cy="293.73" r="1.55"/><circle cx="165.81" cy="297.29" r="1.55"/><circle cx="166.10" cy="301.20" r="1.55"/><circle cx="166.38" cy="294.99" r="1.55"/><circle cx="166.66" cy="299.18" r="1.55"/><circle cx="166.94" cy="292.70" r="1.55"/><circle cx="167.22" cy="297.07" r="1.55"/><circle cx="167.49" cy="301.56" r="1.55"/><circle cx="167.76" cy="294.82" r="1.55"/><circle cx="168.03" cy="299.36" r="1.55"/><circle cx="168.30" cy="303.98" r="1.55"/><circle cx="168.57" cy="297.02" r="1.55"/><circle cx="168.83" cy="301.68" r="1.55"/><circle cx="169.09" cy="294.57" r="1.55"/><circle cx="169.35" cy="299.28" r="1.55"/><circle cx="169.61" cy="304.07" r="1.55"/><circle cx="169.86" cy="296.79" r="1.55"/><circle cx="170.11" cy="301.62" r="1.55"/><circle cx="170.36" cy="306.53" r="1.55"/><circle cx="170.61" cy="299.05" r="1.55"/><circle cx="170.86" cy="304.00" r="1.55"/><circle cx="171.11" cy="296.27" r="1.55"/><circle cx="171.35" cy="301.31" r="1.55"/><circle cx="171.59" cy="306.48" r="1.55"/><circle cx="171.83" cy="298.44" r="1.55"/><circle cx="172.07" cy="303.70" r="1.55"/><circle cx="172.30" cy="295.42" r="1.55"/><circle cx="172.54" cy="300.76" r="1.55"/><circle cx="172.77" cy="306.23" r="1.55"/><circle cx="173.00" cy="297.66" r="1.55"/><circle cx="173.23" cy="303.22" r="1.55"/><circle cx="173.46" cy="308.89" r="1.55"/><circle cx="173.69" cy="300.04" r="1.55"/><circle cx="173.91" cy="305.80" r="1.55"/><circle cx="174.13" cy="296.71" r="1.55"/><circle cx="174.35" cy="302.56" r="1.55"/><circle cx="174.58" cy="308.52" r="1.55"/><circle cx="174.79" cy="299.16" r="1.55"/><circle cx="175.01" cy="305.20" r="1.55"/><circle cx="175.23" cy="295.65" r="1.55"/><circle cx="175.44" cy="301.81" r="1.55"/><circle cx="175.65" cy="308.01" r="1.55"/><circle cx="175.87" cy="298.35" r="1.55"/><circle cx="176.08" cy="304.60" r="1.55"/><circle cx="176.28" cy="310.89" r="1.55"/><circle cx="176.49" cy="301.11" r="1.55"/><circle cx="176.70" cy="307.44" r="1.55"/><circle cx="176.90" cy="297.55" r="1.55"/><circle cx="177.11" cy="303.92" r="1.55"/><circle cx="177.31" cy="310.33" r="1.55"/><circle cx="177.51" cy="300.33" r="1.55"/><circle cx="177.71" cy="306.77" r="1.55"/><circle cx="177.91" cy="313.27" r="1.55"/><circle cx="178.10" cy="303.15" r="1.55"/><circle cx="178.30" cy="309.68" r="1.55"/><circle cx="178.50" cy="299.46" r="1.55"/><circle cx="178.69" cy="306.03" r="1.55"/><circle cx="178.88" cy="312.64" r="1.55"/><circle cx="179.07" cy="302.31" r="1.55"/><circle cx="179.26" cy="308.95" r="1.55"/><circle cx="179.45" cy="298.58" r="1.55"/><circle cx="179.64" cy="305.24" r="1.55"/><circle cx="179.83" cy="311.90" r="1.55"/><circle cx="180.01" cy="301.52" r="1.55"/><circle cx="180.20" cy="308.18" r="1.55"/><circle cx="180.38" cy="314.84" r="1.55"/><circle cx="180.57" cy="304.45" r="1.55"/><circle cx="180.75" cy="311.11" r="1.55"/><circle cx="180.93" cy="300.71" r="1.55"/><circle cx="181.11" cy="307.38" r="1.55"/><circle cx="181.29" cy="314.04" r="1.55"/><circle cx="181.46" cy="303.64" r="1.55"/><circle cx="181.64" cy="310.30" r="1.55"/><circle cx="181.82" cy="299.89" r="1.55"/><circle cx="181.99" cy="306.64" r="1.55"/><circle cx="182.17" cy="313.32" r="1.55"/><circle cx="182.34" cy="303.41" r="1.55"/><circle cx="182.51" cy="309.94" r="1.55"/><circle cx="182.68" cy="316.25" r="1.55"/><circle cx="182.85" cy="306.81" r="1.55"/><circle cx="183.02" cy="312.97" r="1.55"/><circle cx="183.19" cy="303.93" r="1.55"/><circle cx="183.36" cy="309.95" r="1.55"/><circle cx="183.52" cy="315.76" r="1.55"/><circle cx="183.69" cy="307.18" r="1.55"/><circle cx="183.86" cy="312.84" r="1.55"/><circle cx="184.02" cy="318.30" r="1.55"/><circle cx="184.18" cy="310.17" r="1.55"/><circle cx="184.35" cy="315.48" r="1.55"/></g><g fill="#3f4fa8"><path d="M42.65,212.97 l1.75,3.1 h-3.5z"/><path d="M53.53,215.46 l1.75,3.1 h-3.5z"/><path d="M61.66,223.21 l1.75,3.1 h-3.5z"/><path d="M68.16,229.45 l1.75,3.1 h-3.5z"/><path d="M73.56,230.14 l1.75,3.1 h-3.5z"/><path d="M78.19,239.99 l1.75,3.1 h-3.5z"/><path d="M82.24,240.19 l1.75,3.1 h-3.5z"/><path d="M85.84,244.06 l1.75,3.1 h-3.5z"/><path d="M89.08,245.39 l1.75,3.1 h-3.5z"/><path d="M92.02,251.04 l1.75,3.1 h-3.5z"/><path d="M94.72,251.50 l1.75,3.1 h-3.5z"/><path d="M97.21,251.05 l1.75,3.1 h-3.5z"/><path d="M99.52,251.73 l1.75,3.1 h-3.5z"/><path d="M101.68,256.55 l1.75,3.1 h-3.5z"/><path d="M103.70,257.58 l1.75,3.1 h-3.5z"/><path d="M105.61,257.23 l1.75,3.1 h-3.5z"/><path d="M107.40,256.25 l1.75,3.1 h-3.5z"/><path d="M109.11,256.40 l1.75,3.1 h-3.5z"/><path d="M110.73,256.92 l1.75,3.1 h-3.5z"/><path d="M112.27,259.57 l1.75,3.1 h-3.5z"/><path d="M113.74,261.66 l1.75,3.1 h-3.5z"/><path d="M115.14,261.66 l1.75,3.1 h-3.5z"/><path d="M116.49,262.61 l1.75,3.1 h-3.5z"/><path d="M117.79,262.40 l1.75,3.1 h-3.5z"/><path d="M119.03,263.37 l1.75,3.1 h-3.5z"/><path d="M120.23,264.41 l1.75,3.1 h-3.5z"/><path d="M121.39,266.40 l1.75,3.1 h-3.5z"/><path d="M122.50,266.15 l1.75,3.1 h-3.5z"/><path d="M123.58,267.76 l1.75,3.1 h-3.5z"/><path d="M124.62,268.23 l1.75,3.1 h-3.5z"/><path d="M125.64,270.26 l1.75,3.1 h-3.5z"/><path d="M126.62,269.93 l1.75,3.1 h-3.5z"/><path d="M127.57,270.71 l1.75,3.1 h-3.5z"/><path d="M128.49,272.00 l1.75,3.1 h-3.5z"/><path d="M129.39,272.75 l1.75,3.1 h-3.5z"/><path d="M130.27,274.05 l1.75,3.1 h-3.5z"/><path d="M131.12,274.65 l1.75,3.1 h-3.5z"/><path d="M131.95,275.17 l1.75,3.1 h-3.5z"/><path d="M132.76,275.93 l1.75,3.1 h-3.5z"/><path d="M133.54,276.98 l1.75,3.1 h-3.5z"/><path d="M134.31,277.90 l1.75,3.1 h-3.5z"/><path d="M135.07,277.68 l1.75,3.1 h-3.5z"/><path d="M135.80,278.45 l1.75,3.1 h-3.5z"/><path d="M136.52,278.65 l1.75,3.1 h-3.5z"/><path d="M137.23,279.76 l1.75,3.1 h-3.5z"/><path d="M137.91,280.13 l1.75,3.1 h-3.5z"/><path d="M138.59,280.51 l1.75,3.1 h-3.5z"/><path d="M139.25,281.18 l1.75,3.1 h-3.5z"/><path d="M139.90,281.48 l1.75,3.1 h-3.5z"/><path d="M140.53,282.17 l1.75,3.1 h-3.5z"/><path d="M141.15,282.88 l1.75,3.1 h-3.5z"/><path d="M141.76,283.32 l1.75,3.1 h-3.5z"/><path d="M142.36,283.76 l1.75,3.1 h-3.5z"/><path d="M142.95,284.04 l1.75,3.1 h-3.5z"/><path d="M143.53,284.81 l1.75,3.1 h-3.5z"/><path d="M144.10,284.55 l1.75,3.1 h-3.5z"/><path d="M144.65,284.27 l1.75,3.1 h-3.5z"/><path d="M145.20,284.84 l1.75,3.1 h-3.5z"/><path d="M145.74,285.19 l1.75,3.1 h-3.5z"/><path d="M146.27,285.69 l1.75,3.1 h-3.5z"/><path d="M146.79,285.12 l1.75,3.1 h-3.5z"/><path d="M147.31,286.02 l1.75,3.1 h-3.5z"/><path d="M147.81,286.49 l1.75,3.1 h-3.5z"/><path d="M148.31,286.55 l1.75,3.1 h-3.5z"/><path d="M148.80,286.66 l1.75,3.1 h-3.5z"/><path d="M149.28,286.72 l1.75,3.1 h-3.5z"/><path d="M149.76,287.04 l1.75,3.1 h-3.5z"/><path d="M150.23,287.19 l1.75,3.1 h-3.5z"/><path d="M150.69,287.13 l1.75,3.1 h-3.5z"/><path d="M151.15,287.48 l1.75,3.1 h-3.5z"/><path d="M151.60,288.07 l1.75,3.1 h-3.5z"/><path d="M152.04,288.14 l1.75,3.1 h-3.5z"/><path d="M152.48,288.47 l1.75,3.1 h-3.5z"/><path d="M152.91,288.64 l1.75,3.1 h-3.5z"/><path d="M153.33,288.53 l1.75,3.1 h-3.5z"/><path d="M153.75,288.47 l1.75,3.1 h-3.5z"/><path d="M154.17,288.50 l1.75,3.1 h-3.5z"/><path d="M154.58,288.66 l1.75,3.1 h-3.5z"/><path d="M154.98,289.03 l1.75,3.1 h-3.5z"/><path d="M155.38,289.46 l1.75,3.1 h-3.5z"/><path d="M155.78,288.84 l1.75,3.1 h-3.5z"/><path d="M156.17,289.65 l1.75,3.1 h-3.5z"/><path d="M156.55,289.43 l1.75,3.1 h-3.5z"/><path d="M156.93,290.06 l1.75,3.1 h-3.5z"/><path d="M157.31,289.82 l1.75,3.1 h-3.5z"/><path d="M157.68,289.93 l1.75,3.1 h-3.5z"/><path d="M158.05,290.55 l1.75,3.1 h-3.5z"/><path d="M158.41,290.51 l1.75,3.1 h-3.5z"/><path d="M158.77,290.34 l1.75,3.1 h-3.5z"/><path d="M159.13,290.28 l1.75,3.1 h-3.5z"/><path d="M159.48,290.39 l1.75,3.1 h-3.5z"/><path d="M159.83,290.85 l1.75,3.1 h-3.5z"/><path d="M160.17,291.00 l1.75,3.1 h-3.5z"/><path d="M160.51,291.82 l1.75,3.1 h-3.5z"/><path d="M160.85,293.03 l1.75,3.1 h-3.5z"/><path d="M161.18,291.36 l1.75,3.1 h-3.5z"/><path d="M161.51,292.84 l1.75,3.1 h-3.5z"/><path d="M161.84,294.73 l1.75,3.1 h-3.5z"/><path d="M162.16,292.14 l1.75,3.1 h-3.5z"/><path d="M162.48,294.18 l1.75,3.1 h-3.5z"/><path d="M162.80,290.95 l1.75,3.1 h-3.5z"/><path d="M163.11,293.20 l1.75,3.1 h-3.5z"/><path d="M163.42,295.74 l1.75,3.1 h-3.5z"/><path d="M163.73,291.79 l1.75,3.1 h-3.5z"/><path d="M164.04,294.49 l1.75,3.1 h-3.5z"/><path d="M164.34,297.59 l1.75,3.1 h-3.5z"/><path d="M164.64,292.75 l1.75,3.1 h-3.5z"/><path d="M164.94,296.11 l1.75,3.1 h-3.5z"/><path d="M165.23,290.53 l1.75,3.1 h-3.5z"/><path d="M165.52,294.15 l1.75,3.1 h-3.5z"/><path d="M165.81,298.15 l1.75,3.1 h-3.5z"/><path d="M166.10,291.73 l1.75,3.1 h-3.5z"/><path d="M166.38,295.98 l1.75,3.1 h-3.5z"/><path d="M166.66,289.00 l1.75,3.1 h-3.5z"/><path d="M166.94,293.64 l1.75,3.1 h-3.5z"/><path d="M167.22,298.39 l1.75,3.1 h-3.5z"/><path d="M167.49,291.20 l1.75,3.1 h-3.5z"/><path d="M167.76,296.03 l1.75,3.1 h-3.5z"/><path d="M168.03,300.95 l1.75,3.1 h-3.5z"/><path d="M168.30,293.50 l1.75,3.1 h-3.5z"/><path d="M168.57,298.46 l1.75,3.1 h-3.5z"/><path d="M168.83,290.85 l1.75,3.1 h-3.5z"/><path d="M169.09,295.87 l1.75,3.1 h-3.5z"/><path d="M169.35,300.97 l1.75,3.1 h-3.5z"/><path d="M169.61,293.17 l1.75,3.1 h-3.5z"/><path d="M169.86,298.32 l1.75,3.1 h-3.5z"/><path d="M170.11,303.55 l1.75,3.1 h-3.5z"/><path d="M170.36,295.57 l1.75,3.1 h-3.5z"/><path d="M170.61,300.84 l1.75,3.1 h-3.5z"/><path d="M170.86,292.60 l1.75,3.1 h-3.5z"/><path d="M171.11,297.94 l1.75,3.1 h-3.5z"/><path d="M171.35,303.42 l1.75,3.1 h-3.5z"/><path d="M171.59,294.86 l1.75,3.1 h-3.5z"/><path d="M171.83,300.44 l1.75,3.1 h-3.5z"/><path d="M172.07,291.60 l1.75,3.1 h-3.5z"/><path d="M172.30,297.27 l1.75,3.1 h-3.5z"/><path d="M172.54,303.08 l1.75,3.1 h-3.5z"/><path d="M172.77,293.94 l1.75,3.1 h-3.5z"/><path d="M173.00,299.84 l1.75,3.1 h-3.5z"/><path d="M173.23,305.88 l1.75,3.1 h-3.5z"/><path d="M173.46,296.43 l1.75,3.1 h-3.5z"/><path d="M173.69,302.55 l1.75,3.1 h-3.5z"/><path d="M173.91,292.85 l1.75,3.1 h-3.5z"/><path d="M174.13,299.06 l1.75,3.1 h-3.5z"/><path d="M174.35,305.41 l1.75,3.1 h-3.5z"/><path d="M174.58,295.40 l1.75,3.1 h-3.5z"/><path d="M174.79,301.84 l1.75,3.1 h-3.5z"/><path d="M175.01,291.59 l1.75,3.1 h-3.5z"/><path d="M175.23,298.13 l1.75,3.1 h-3.5z"/><path d="M175.44,304.78 l1.75,3.1 h-3.5z"/><path d="M175.65,294.40 l1.75,3.1 h-3.5z"/><path d="M175.87,301.08 l1.75,3.1 h-3.5z"/><path d="M176.08,307.82 l1.75,3.1 h-3.5z"/><path d="M176.28,297.31 l1.75,3.1 h-3.5z"/><path d="M176.49,304.09 l1.75,3.1 h-3.5z"/><path d="M176.70,293.47 l1.75,3.1 h-3.5z"/><path d="M176.90,300.28 l1.75,3.1 h-3.5z"/><path d="M177.11,307.15 l1.75,3.1 h-3.5z"/><path d="M177.31,296.40 l1.75,3.1 h-3.5z"/><path d="M177.51,303.31 l1.75,3.1 h-3.5z"/><path d="M177.71,310.27 l1.75,3.1 h-3.5z"/><path d="M177.91,299.39 l1.75,3.1 h-3.5z"/><path d="M178.10,306.39 l1.75,3.1 h-3.5z"/><path d="M178.30,295.41 l1.75,3.1 h-3.5z"/><path d="M178.50,302.44 l1.75,3.1 h-3.5z"/><path d="M178.69,309.53 l1.75,3.1 h-3.5z"/><path d="M178.88,298.42 l1.75,3.1 h-3.5z"/><path d="M179.07,305.54 l1.75,3.1 h-3.5z"/><path d="M179.26,294.35 l1.75,3.1 h-3.5z"/><path d="M179.45,301.51 l1.75,3.1 h-3.5z"/><path d="M179.64,308.68 l1.75,3.1 h-3.5z"/><path d="M179.83,297.48 l1.75,3.1 h-3.5z"/><path d="M180.01,304.65 l1.75,3.1 h-3.5z"/><path d="M180.20,311.82 l1.75,3.1 h-3.5z"/><path d="M180.38,300.61 l1.75,3.1 h-3.5z"/><path d="M180.57,307.78 l1.75,3.1 h-3.5z"/><path d="M180.75,296.56 l1.75,3.1 h-3.5z"/><path d="M180.93,303.73 l1.75,3.1 h-3.5z"/><path d="M181.11,310.91 l1.75,3.1 h-3.5z"/><path d="M181.29,299.68 l1.75,3.1 h-3.5z"/><path d="M181.46,306.85 l1.75,3.1 h-3.5z"/><path d="M181.64,314.03 l1.75,3.1 h-3.5z"/><path d="M181.82,302.79 l1.75,3.1 h-3.5z"/><path d="M181.99,310.01 l1.75,3.1 h-3.5z"/><path d="M182.17,299.13 l1.75,3.1 h-3.5z"/><path d="M182.34,306.27 l1.75,3.1 h-3.5z"/><path d="M182.51,313.19 l1.75,3.1 h-3.5z"/><path d="M182.68,302.82 l1.75,3.1 h-3.5z"/><path d="M182.85,309.57 l1.75,3.1 h-3.5z"/><path d="M183.02,299.64 l1.75,3.1 h-3.5z"/><path d="M183.19,306.23 l1.75,3.1 h-3.5z"/><path d="M183.36,312.60 l1.75,3.1 h-3.5z"/><path d="M183.52,303.17 l1.75,3.1 h-3.5z"/><path d="M183.69,309.37 l1.75,3.1 h-3.5z"/><path d="M183.86,315.36 l1.75,3.1 h-3.5z"/><path d="M184.02,306.42 l1.75,3.1 h-3.5z"/><path d="M184.18,312.25 l1.75,3.1 h-3.5z"/><path d="M184.35,303.73 l1.75,3.1 h-3.5z"/></g></g>
<rect x="39.45" y="199.35" width="148.7" height="114.75000000000003" stroke="#231f20" fill="none"/>
<line x1="39.45" y1="296.75" x2="42.45" y2="296.75" stroke="#231f20" stroke-width="1"/>
<text x="31.450000000000003" y="300.85" font-size="12" text-anchor="end" fill="#231f20" stroke="#231f20" stroke-width="0.22" >1</text>
<line x1="87.5" y1="314.1" x2="87.5" y2="311.1" stroke="#231f20" stroke-width="1"/>
<text x="87.5" y="328.8" font-size="12" text-anchor="middle" fill="#231f20" stroke="#231f20" stroke-width="0.22" >1</text>
<line x1="39.45" y1="239.5" x2="42.45" y2="239.5" stroke="#231f20" stroke-width="1"/>
<text x="33.45" y="243.6" font-size="12" text-anchor="end" fill="#231f20" stroke="#231f20" stroke-width="0.22" >10</text>
<line x1="162.0" y1="314.1" x2="162.0" y2="311.1" stroke="#231f20" stroke-width="1"/>
<text x="162.0" y="328.8" font-size="12" text-anchor="middle" fill="#231f20" stroke="#231f20" stroke-width="0.22" >10</text>
<line x1="39.45" y1="313.9839672517629" x2="41.050000000000004" y2="313.9839672517629" stroke="#231f20" stroke-width="0.8"/>
<line x1="39.45" y1="309.4508409155364" x2="41.050000000000004" y2="309.4508409155364" stroke="#231f20" stroke-width="0.8"/>
<line x1="39.45" y1="305.61813720918377" x2="41.050000000000004" y2="305.61813720918377" stroke="#231f20" stroke-width="0.8"/>
<line x1="39.45" y1="302.29809824471124" x2="41.050000000000004" y2="302.29809824471124" stroke="#231f20" stroke-width="0.8"/>
<line x1="39.45" y1="299.3696163345987" x2="41.050000000000004" y2="299.3696163345987" stroke="#231f20" stroke-width="0.8"/>
<line x1="39.45" y1="279.5160327482371" x2="41.050000000000004" y2="279.5160327482371" stroke="#231f20" stroke-width="0.8"/>
<line x1="39.45" y1="269.4348081672993" x2="41.050000000000004" y2="269.4348081672993" stroke="#231f20" stroke-width="0.8"/>
<line x1="39.45" y1="262.28206549647416" x2="41.050000000000004" y2="262.28206549647416" stroke="#231f20" stroke-width="0.8"/>
<line x1="39.45" y1="256.7339672517629" x2="41.050000000000004" y2="256.7339672517629" stroke="#231f20" stroke-width="0.8"/>
<line x1="39.45" y1="252.2008409155364" x2="41.050000000000004" y2="252.2008409155364" stroke="#231f20" stroke-width="0.8"/>
<line x1="39.45" y1="248.3681372091838" x2="41.050000000000004" y2="248.3681372091838" stroke="#231f20" stroke-width="0.8"/>
<line x1="39.45" y1="245.04809824471124" x2="41.050000000000004" y2="245.04809824471124" stroke="#231f20" stroke-width="0.8"/>
<line x1="39.45" y1="242.11961633459865" x2="41.050000000000004" y2="242.11961633459865" stroke="#231f20" stroke-width="0.8"/>
<line x1="39.45" y1="222.26603274823708" x2="41.050000000000004" y2="222.26603274823708" stroke="#231f20" stroke-width="0.8"/>
<line x1="39.45" y1="212.1848081672993" x2="41.050000000000004" y2="212.1848081672993" stroke="#231f20" stroke-width="0.8"/>
<line x1="39.45" y1="205.03206549647416" x2="41.050000000000004" y2="205.03206549647416" stroke="#231f20" stroke-width="0.8"/>
<line x1="39.45" y1="199.48396725176292" x2="41.050000000000004" y2="199.48396725176292" stroke="#231f20" stroke-width="0.8"/>
<line x1="48.54553347661485" y1="314.1" x2="48.54553347661485" y2="312.5" stroke="#231f20" stroke-width="0.8"/>
<line x1="57.8534693539332" y1="314.1" x2="57.8534693539332" y2="312.5" stroke="#231f20" stroke-width="0.8"/>
<line x1="65.0732653230334" y1="314.1" x2="65.0732653230334" y2="312.5" stroke="#231f20" stroke-width="0.8"/>
<line x1="70.97226815358145" y1="314.1" x2="70.97226815358145" y2="312.5" stroke="#231f20" stroke-width="0.8"/>
<line x1="75.95980398106214" y1="314.1" x2="75.95980398106214" y2="312.5" stroke="#231f20" stroke-width="0.8"/>
<line x1="80.2802040308998" y1="314.1" x2="80.2802040308998" y2="312.5" stroke="#231f20" stroke-width="0.8"/>
<line x1="84.0910669532297" y1="314.1" x2="84.0910669532297" y2="312.5" stroke="#231f20" stroke-width="0.8"/>
<line x1="109.9267346769666" y1="314.1" x2="109.9267346769666" y2="312.5" stroke="#231f20" stroke-width="0.8"/>
<line x1="123.04553347661485" y1="314.1" x2="123.04553347661485" y2="312.5" stroke="#231f20" stroke-width="0.8"/>
<line x1="132.3534693539332" y1="314.1" x2="132.3534693539332" y2="312.5" stroke="#231f20" stroke-width="0.8"/>
<line x1="139.5732653230334" y1="314.1" x2="139.5732653230334" y2="312.5" stroke="#231f20" stroke-width="0.8"/>
<line x1="145.47226815358147" y1="314.1" x2="145.47226815358147" y2="312.5" stroke="#231f20" stroke-width="0.8"/>
<line x1="150.45980398106212" y1="314.1" x2="150.45980398106212" y2="312.5" stroke="#231f20" stroke-width="0.8"/>
<line x1="154.7802040308998" y1="314.1" x2="154.7802040308998" y2="312.5" stroke="#231f20" stroke-width="0.8"/>
<line x1="158.5910669532297" y1="314.1" x2="158.5910669532297" y2="312.5" stroke="#231f20" stroke-width="0.8"/>
<line x1="184.4267346769666" y1="314.1" x2="184.4267346769666" y2="312.5" stroke="#231f20" stroke-width="0.8"/>
<rect x="152.4" y="207.4" width="2.4" height="2.4" fill="#000"/>
<circle cx="153.5" cy="222.6" r="1.4" fill="#c1272d"/>
<path d="M153.5,235.0 l1.7,3.0 h-3.4z" fill="#3f4fa8"/>
<text x="159.5" y="211.6" font-size="10.5" text-anchor="start" fill="#231f20" stroke="#231f20" stroke-width="0.22" >|<tspan font-style="italic">h</tspan><tspan font-size="7.5" dy="2.0">21</tspan><tspan dy="-2.0" font-size="1">&#8203;</tspan>|</text>
<text x="159.5" y="226.8" font-size="10.5" text-anchor="start" fill="#231f20" stroke="#231f20" stroke-width="0.22" >U</text>
<text x="159.5" y="239.7" font-size="10.5" text-anchor="start" fill="#231f20" stroke="#231f20" stroke-width="0.22" >MAG</text>
<text x="46.5" y="277.0" font-size="10.3" text-anchor="start" fill="#231f20" stroke="#231f20" stroke-width="0.22" ><tspan font-style="italic">f</tspan><tspan font-size="7.5" dy="2.2">T</tspan><tspan dy="-2.2" font-size="1">&#8203;</tspan> = 13.5 GHz</text>
<text x="46.5" y="290.6" font-size="10.3" text-anchor="start" fill="#231f20" stroke="#231f20" stroke-width="0.22" ><tspan font-style="italic">f</tspan><tspan font-size="7.5" dy="2.2">MAX</tspan><tspan dy="-2.2" font-size="1">&#8203;</tspan> = 10.5 GHz</text>
<text x="11.3" y="256" font-size="12" text-anchor="middle" fill="#231f20" stroke="#231f20" stroke-width="0.22" transform="rotate(-90 11.3 256)" >Gain</text>
<text x="116" y="345.6" font-size="12" text-anchor="middle" fill="#231f20" stroke="#231f20" stroke-width="0.22" >Frequency (GHz)</text>
<text x="-0.5" y="193.7" font-size="15" font-weight="bold" fill="#000" transform="translate(-0.5 0) scale(1.18 1) translate(0.5 0)">d</text>
<clipPath id="ce"><rect x="257.25" y="199.35" width="148.25" height="114.75000000000003"/></clipPath>
<path d="M257.25,245.27 L257.50,244.44 L257.75,243.37 L258.00,242.06 L258.25,240.56 L258.50,238.87 L258.75,237.05 L259.00,235.10 L259.25,233.08 L259.50,231.02 L259.75,228.94 L260.00,226.90 L260.25,224.92 L260.50,223.04 L260.75,221.30 L261.00,219.72 L261.25,218.33 L261.50,217.16 L261.75,216.23 L262.00,215.55 L262.25,215.14 L262.50,215.00 L262.75,215.14 L263.00,215.55 L263.25,216.23 L263.50,217.16 L263.75,218.33 L264.00,219.72 L264.25,221.30 L264.50,223.04 L264.75,224.92 L265.00,226.90 L265.25,228.94 L265.50,231.02 L265.75,233.08 L266.00,235.10 L266.25,237.05 L266.50,238.87 L266.75,240.56 L267.00,242.06 L267.25,243.37 L267.50,244.44 L267.75,245.27 L268.00,245.85 L268.25,246.15 L268.50,246.18 L268.75,245.93 L269.00,245.41 L269.25,244.63 L269.50,243.60 L269.75,242.34 L270.00,240.87 L270.25,239.22 L270.50,237.42 L270.75,235.50 L271.00,233.49 L271.25,231.43 L271.50,229.36 L271.75,227.30 L272.00,225.31 L272.25,223.41 L272.50,221.63 L272.75,220.02 L273.00,218.59 L273.25,217.38 L273.50,216.39 L273.75,215.66 L274.00,215.20 L274.25,215.01 L274.50,215.09 L274.75,215.45 L275.00,216.07 L275.25,216.95 L275.50,218.08 L275.75,219.42 L276.00,220.97 L276.25,222.68 L276.50,224.53 L276.75,226.50 L277.00,228.53 L277.25,230.60 L277.50,232.67 L277.75,234.70 L278.00,236.67 L278.25,238.52 L278.50,240.23 L278.75,241.78 L279.00,243.12 L279.25,244.25 L279.50,245.13 L279.75,245.75 L280.00,246.11 L280.25,246.19 L280.50,246.00 L280.75,245.54 L281.00,244.81 L281.25,243.82 L281.50,242.61 L281.75,241.18 L282.00,239.57 L282.25,237.79 L282.50,235.89 L282.75,233.90 L283.00,231.84 L283.25,229.77 L283.50,227.71 L283.75,225.70 L284.00,223.78 L284.25,221.98 L284.50,220.33 L284.75,218.86 L285.00,217.60 L285.25,216.57 L285.50,215.79 L285.75,215.27 L286.00,215.02 L286.25,215.05 L286.50,215.35 L286.75,215.93 L287.00,216.76 L287.25,217.83 L287.50,219.14 L287.75,220.64 L288.00,222.33 L288.25,224.15 L288.50,226.10 L288.75,228.12 L289.00,230.18 L289.25,232.26 L289.50,234.30 L289.75,236.28 L290.00,238.16 L290.25,239.90 L290.50,241.48 L290.75,242.87 L291.00,244.04 L291.25,244.97 L291.50,245.65 L291.75,246.06 L292.00,246.20 L292.25,246.06 L292.50,245.65 L292.75,244.97 L293.00,244.04 L293.25,242.87 L293.50,241.48 L293.75,239.90 L294.00,238.16 L294.25,236.28 L294.50,234.30 L294.75,232.26 L295.00,230.18 L295.25,228.12 L295.50,226.10 L295.75,224.15 L296.00,222.33 L296.25,220.64 L296.50,219.14 L296.75,217.83 L297.00,216.76 L297.25,215.93 L297.50,215.35 L297.75,215.05 L298.00,215.02 L298.25,215.27 L298.50,215.79 L298.75,216.57 L299.00,217.60 L299.25,218.86 L299.50,220.33 L299.75,221.98 L300.00,223.78 L300.25,225.70 L300.50,227.71 L300.75,229.77 L301.00,231.84 L301.25,233.90 L301.50,235.89 L301.75,237.79 L302.00,239.57 L302.25,241.18 L302.50,242.61 L302.75,243.82 L303.00,244.81 L303.25,245.54 L303.50,246.00 L303.75,246.19 L304.00,246.11 L304.25,245.75 L304.50,245.13 L304.75,244.25 L305.00,243.12 L305.25,241.78 L305.50,240.23 L305.75,238.52 L306.00,236.67 L306.25,234.70 L306.50,232.67 L306.75,230.60 L307.00,228.53 L307.25,226.50 L307.50,224.53 L307.75,222.68 L308.00,220.97 L308.25,219.42 L308.50,218.08 L308.75,216.95 L309.00,216.07 L309.25,215.45 L309.50,215.09 L309.75,215.01 L310.00,215.20 L310.25,215.66 L310.50,216.39 L310.75,217.38 L311.00,218.59 L311.25,220.02 L311.50,221.63 L311.75,223.41 L312.00,225.31 L312.25,227.30 L312.50,229.36 L312.75,231.43 L313.00,233.49 L313.25,235.50 L313.50,237.42 L313.75,239.22 L314.00,240.87 L314.25,242.34 L314.50,243.60 L314.75,244.63 L315.00,245.41 L315.25,245.93 L315.50,246.18 L315.75,246.15 L316.00,245.85 L316.25,245.27 L316.50,244.44 L316.75,243.37 L317.00,242.06 L317.25,240.56 L317.50,238.87 L317.75,237.05 L318.00,235.10 L318.25,233.08 L318.50,231.02 L318.75,228.94 L319.00,226.90 L319.25,224.92 L319.50,223.04 L319.75,221.30 L320.00,219.72 L320.25,218.33 L320.50,217.16 L320.75,216.23 L321.00,215.55 L321.25,215.14 L321.50,215.00 L321.75,215.14 L322.00,215.55 L322.25,216.23 L322.50,217.16 L322.75,218.33 L323.00,219.72 L323.25,221.30 L323.50,223.04 L323.75,224.92 L324.00,226.90 L324.25,228.94 L324.50,231.02 L324.75,233.08 L325.00,235.10 L325.25,237.05 L325.50,238.87 L325.75,240.56 L326.00,242.06 L326.25,243.37 L326.50,244.44 L326.75,245.27 L327.00,245.85 L327.25,246.15 L327.50,246.18 L327.75,245.93 L328.00,245.41 L328.25,244.63 L328.50,243.60 L328.75,242.34 L329.00,240.87 L329.25,239.22 L329.50,237.42 L329.75,235.50 L330.00,233.49 L330.25,231.43 L330.50,229.36 L330.75,227.30 L331.00,225.31 L331.25,223.41 L331.50,221.63 L331.75,220.02 L332.00,218.59 L332.25,217.38 L332.50,216.39 L332.75,215.66 L333.00,215.20 L333.25,215.01 L333.50,215.09 L333.75,215.45 L334.00,216.07 L334.25,216.95 L334.50,218.08 L334.75,219.42 L335.00,220.97 L335.25,222.68 L335.50,224.53 L335.75,226.50 L336.00,228.53 L336.25,230.60 L336.50,232.67 L336.75,234.70 L337.00,236.67 L337.25,238.52 L337.50,240.23 L337.75,241.78 L338.00,243.12 L338.25,244.25 L338.50,245.13 L338.75,245.75 L339.00,246.11 L339.25,246.19 L339.50,246.00 L339.75,245.54 L340.00,244.81 L340.25,243.82 L340.50,242.61 L340.75,241.18 L341.00,239.57 L341.25,237.79 L341.50,235.89 L341.75,233.90 L342.00,231.84 L342.25,229.77 L342.50,227.71 L342.75,225.70 L343.00,223.78 L343.25,221.98 L343.50,220.33 L343.75,218.86 L344.00,217.60 L344.25,216.57 L344.50,215.79 L344.75,215.27 L345.00,215.02 L345.25,215.05 L345.50,215.35 L345.75,215.93 L346.00,216.76 L346.25,217.83 L346.50,219.14 L346.75,220.64 L347.00,222.33 L347.25,224.15 L347.50,226.10 L347.75,228.12 L348.00,230.18 L348.25,232.26 L348.50,234.30 L348.75,236.28 L349.00,238.16 L349.25,239.90 L349.50,241.48 L349.75,242.87 L350.00,244.04 L350.25,244.97 L350.50,245.65 L350.75,246.06 L351.00,246.20 L351.25,246.06 L351.50,245.65 L351.75,244.97 L352.00,244.04 L352.25,242.87 L352.50,241.48 L352.75,239.90 L353.00,238.16 L353.25,236.28 L353.50,234.30 L353.75,232.26 L354.00,230.18 L354.25,228.12 L354.50,226.10 L354.75,224.15 L355.00,222.33 L355.25,220.64 L355.50,219.14 L355.75,217.83 L356.00,216.76 L356.25,215.93 L356.50,215.35 L356.75,215.05 L357.00,215.02 L357.25,215.27 L357.50,215.79 L357.75,216.57 L358.00,217.60 L358.25,218.86 L358.50,220.33 L358.75,221.98 L359.00,223.78 L359.25,225.70 L359.50,227.71 L359.75,229.77 L360.00,231.84 L360.25,233.90 L360.50,235.89 L360.75,237.79 L361.00,239.57 L361.25,241.18 L361.50,242.61 L361.75,243.82 L362.00,244.81 L362.25,245.54 L362.50,246.00 L362.75,246.19 L363.00,246.11 L363.25,245.75 L363.50,245.13 L363.75,244.25 L364.00,243.12 L364.25,241.78 L364.50,240.23 L364.75,238.52 L365.00,236.67 L365.25,234.70 L365.50,232.67 L365.75,230.60 L366.00,228.53 L366.25,226.50 L366.50,224.53 L366.75,222.68 L367.00,220.97 L367.25,219.42 L367.50,218.08 L367.75,216.95 L368.00,216.07 L368.25,215.45 L368.50,215.09 L368.75,215.01 L369.00,215.20 L369.25,215.66 L369.50,216.39 L369.75,217.38 L370.00,218.59 L370.25,220.02 L370.50,221.63 L370.75,223.41 L371.00,225.31 L371.25,227.30 L371.50,229.36 L371.75,231.43 L372.00,233.49 L372.25,235.50 L372.50,237.42 L372.75,239.22 L373.00,240.87 L373.25,242.34 L373.50,243.60 L373.75,244.63 L374.00,245.41 L374.25,245.93 L374.50,246.18 L374.75,246.15 L375.00,245.85 L375.25,245.27 L375.50,244.44 L375.75,243.37 L376.00,242.06 L376.25,240.56 L376.50,238.87 L376.75,237.05 L377.00,235.10 L377.25,233.08 L377.50,231.02 L377.75,228.94 L378.00,226.90 L378.25,224.92 L378.50,223.04 L378.75,221.30 L379.00,219.72 L379.25,218.33 L379.50,217.16 L379.75,216.23 L380.00,215.55 L380.25,215.14 L380.50,215.00 L380.75,215.14 L381.00,215.55 L381.25,216.23 L381.50,217.16 L381.75,218.33 L382.00,219.72 L382.25,221.30 L382.50,223.04 L382.75,224.92 L383.00,226.90 L383.25,228.94 L383.50,231.02 L383.75,233.08 L384.00,235.10 L384.25,237.05 L384.50,238.87 L384.75,240.56 L385.00,242.06 L385.25,243.37 L385.50,244.44 L385.75,245.27 L386.00,245.85 L386.25,246.15 L386.50,246.18 L386.75,245.93 L387.00,245.41 L387.25,244.63 L387.50,243.60 L387.75,242.34 L388.00,240.87 L388.25,239.22 L388.50,237.42 L388.75,235.50 L389.00,233.49 L389.25,231.43 L389.50,229.36 L389.75,227.30 L390.00,225.31 L390.25,223.41 L390.50,221.63 L390.75,220.02 L391.00,218.59 L391.25,217.38 L391.50,216.39 L391.75,215.66 L392.00,215.20 L392.25,215.01 L392.50,215.09 L392.75,215.45 L393.00,216.07 L393.25,216.95 L393.50,218.08 L393.75,219.42 L394.00,220.97 L394.25,222.68 L394.50,224.53 L394.75,226.50 L395.00,228.53 L395.25,230.60 L395.50,232.67 L395.75,234.70 L396.00,236.67 L396.25,238.52 L396.50,240.23 L396.75,241.78 L397.00,243.12 L397.25,244.25 L397.50,245.13 L397.75,245.75 L398.00,246.11 L398.25,246.19 L398.50,246.00 L398.75,245.54 L399.00,244.81 L399.25,243.82 L399.50,242.61 L399.75,241.18 L400.00,239.57 L400.25,237.79 L400.50,235.89 L400.75,233.90 L401.00,231.84 L401.25,229.77 L401.50,227.71 L401.75,225.70 L402.00,223.78 L402.25,221.98 L402.50,220.33 L402.75,218.86 L403.00,217.60 L403.25,216.57 L403.50,215.79 L403.75,215.27 L404.00,215.02 L404.25,215.05 L404.50,215.35 L404.75,215.93 L405.00,216.76 L405.25,217.83 L405.50,219.14" stroke="#231f20" stroke-width="1.4" fill="none" clip-path="url(#ce)"/>
<path d="M257.25,299.15 L257.50,299.18 L257.75,298.92 L258.00,298.38 L258.25,297.57 L258.50,296.50 L258.75,295.19 L259.00,293.67 L259.25,291.96 L259.50,290.08 L259.75,288.09 L260.00,286.00 L260.25,283.86 L260.50,281.71 L260.75,279.58 L261.00,277.50 L261.25,275.53 L261.50,273.69 L261.75,272.01 L262.00,270.53 L262.25,269.27 L262.50,268.25 L262.75,267.49 L263.00,267.01 L263.25,266.81 L263.50,266.89 L263.75,267.26 L264.00,267.91 L264.25,268.83 L264.50,270.00 L264.75,271.39 L265.00,273.00 L265.25,274.78 L265.50,276.70 L265.75,278.74 L266.00,280.85 L266.25,283.00 L266.50,285.15 L266.75,287.26 L267.00,289.30 L267.25,291.22 L267.50,293.00 L267.75,294.61 L268.00,296.00 L268.25,297.17 L268.50,298.09 L268.75,298.74 L269.00,299.11 L269.25,299.19 L269.50,298.99 L269.75,298.51 L270.00,297.75 L270.25,296.73 L270.50,295.47 L270.75,293.99 L271.00,292.31 L271.25,290.47 L271.50,288.50 L271.75,286.42 L272.00,284.29 L272.25,282.14 L272.50,280.00 L272.75,277.91 L273.00,275.92 L273.25,274.04 L273.50,272.33 L273.75,270.81 L274.00,269.50 L274.25,268.43 L274.50,267.62 L274.75,267.08 L275.00,266.82 L275.25,266.85 L275.50,267.17 L275.75,267.76 L276.00,268.62 L276.25,269.74 L276.50,271.10 L276.75,272.66 L277.00,274.41 L277.25,276.31 L277.50,278.32 L277.75,280.42 L278.00,282.57 L278.25,284.72 L278.50,286.84 L278.75,288.90 L279.00,290.85 L279.25,292.66 L279.50,294.30 L279.75,295.74 L280.00,296.96 L280.25,297.93 L280.50,298.63 L280.75,299.06 L281.00,299.20 L281.25,299.06 L281.50,298.63 L281.75,297.93 L282.00,296.96 L282.25,295.74 L282.50,294.30 L282.75,292.66 L283.00,290.85 L283.25,288.90 L283.50,286.84 L283.75,284.72 L284.00,282.57 L284.25,280.42 L284.50,278.32 L284.75,276.31 L285.00,274.41 L285.25,272.66 L285.50,271.10 L285.75,269.74 L286.00,268.62 L286.25,267.76 L286.50,267.17 L286.75,266.85 L287.00,266.82 L287.25,267.08 L287.50,267.62 L287.75,268.43 L288.00,269.50 L288.25,270.81 L288.50,272.33 L288.75,274.04 L289.00,275.92 L289.25,277.91 L289.50,280.00 L289.75,282.14 L290.00,284.29 L290.25,286.42 L290.50,288.50 L290.75,290.47 L291.00,292.31 L291.25,293.99 L291.50,295.47 L291.75,296.73 L292.00,297.75 L292.25,298.51 L292.50,298.99 L292.75,299.19 L293.00,299.11 L293.25,298.74 L293.50,298.09 L293.75,297.17 L294.00,296.00 L294.25,294.61 L294.50,293.00 L294.75,291.22 L295.00,289.30 L295.25,287.26 L295.50,285.15 L295.75,283.00 L296.00,280.85 L296.25,278.74 L296.50,276.70 L296.75,274.78 L297.00,273.00 L297.25,271.39 L297.50,270.00 L297.75,268.83 L298.00,267.91 L298.25,267.26 L298.50,266.89 L298.75,266.81 L299.00,267.01 L299.25,267.49 L299.50,268.25 L299.75,269.27 L300.00,270.53 L300.25,272.01 L300.50,273.69 L300.75,275.53 L301.00,277.50 L301.25,279.58 L301.50,281.71 L301.75,283.86 L302.00,286.00 L302.25,288.09 L302.50,290.08 L302.75,291.96 L303.00,293.67 L303.25,295.19 L303.50,296.50 L303.75,297.57 L304.00,298.38 L304.25,298.92 L304.50,299.18 L304.75,299.15 L305.00,298.83 L305.25,298.24 L305.50,297.38 L305.75,296.26 L306.00,294.90 L306.25,293.34 L306.50,291.59 L306.75,289.69 L307.00,287.68 L307.25,285.58 L307.50,283.43 L307.75,281.28 L308.00,279.16 L308.25,277.10 L308.50,275.15 L308.75,273.34 L309.00,271.70 L309.25,270.26 L309.50,269.04 L309.75,268.07 L310.00,267.37 L310.25,266.94 L310.50,266.80 L310.75,266.94 L311.00,267.37 L311.25,268.07 L311.50,269.04 L311.75,270.26 L312.00,271.70 L312.25,273.34 L312.50,275.15 L312.75,277.10 L313.00,279.16 L313.25,281.28 L313.50,283.43 L313.75,285.58 L314.00,287.68 L314.25,289.69 L314.50,291.59 L314.75,293.34 L315.00,294.90 L315.25,296.26 L315.50,297.38 L315.75,298.24 L316.00,298.83 L316.25,299.15 L316.50,299.18 L316.75,298.92 L317.00,298.38 L317.25,297.57 L317.50,296.50 L317.75,295.19 L318.00,293.67 L318.25,291.96 L318.50,290.08 L318.75,288.09 L319.00,286.00 L319.25,283.86 L319.50,281.71 L319.75,279.58 L320.00,277.50 L320.25,275.53 L320.50,273.69 L320.75,272.01 L321.00,270.53 L321.25,269.27 L321.50,268.25 L321.75,267.49 L322.00,267.01 L322.25,266.81 L322.50,266.89 L322.75,267.26 L323.00,267.91 L323.25,268.83 L323.50,270.00 L323.75,271.39 L324.00,273.00 L324.25,274.78 L324.50,276.70 L324.75,278.74 L325.00,280.85 L325.25,283.00 L325.50,285.15 L325.75,287.26 L326.00,289.30 L326.25,291.22 L326.50,293.00 L326.75,294.61 L327.00,296.00 L327.25,297.17 L327.50,298.09 L327.75,298.74 L328.00,299.11 L328.25,299.19 L328.50,298.99 L328.75,298.51 L329.00,297.75 L329.25,296.73 L329.50,295.47 L329.75,293.99 L330.00,292.31 L330.25,290.47 L330.50,288.50 L330.75,286.42 L331.00,284.29 L331.25,282.14 L331.50,280.00 L331.75,277.91 L332.00,275.92 L332.25,274.04 L332.50,272.33 L332.75,270.81 L333.00,269.50 L333.25,268.43 L333.50,267.62 L333.75,267.08 L334.00,266.82 L334.25,266.85 L334.50,267.17 L334.75,267.76 L335.00,268.62 L335.25,269.74 L335.50,271.10 L335.75,272.66 L336.00,274.41 L336.25,276.31 L336.50,278.32 L336.75,280.42 L337.00,282.57 L337.25,284.72 L337.50,286.84 L337.75,288.90 L338.00,290.85 L338.25,292.66 L338.50,294.30 L338.75,295.74 L339.00,296.96 L339.25,297.93 L339.50,298.63 L339.75,299.06 L340.00,299.20 L340.25,299.06 L340.50,298.63 L340.75,297.93 L341.00,296.96 L341.25,295.74 L341.50,294.30 L341.75,292.66 L342.00,290.85 L342.25,288.90 L342.50,286.84 L342.75,284.72 L343.00,282.57 L343.25,280.42 L343.50,278.32 L343.75,276.31 L344.00,274.41 L344.25,272.66 L344.50,271.10 L344.75,269.74 L345.00,268.62 L345.25,267.76 L345.50,267.17 L345.75,266.85 L346.00,266.82 L346.25,267.08 L346.50,267.62 L346.75,268.43 L347.00,269.50 L347.25,270.81 L347.50,272.33 L347.75,274.04 L348.00,275.92 L348.25,277.91 L348.50,280.00 L348.75,282.14 L349.00,284.29 L349.25,286.42 L349.50,288.50 L349.75,290.47 L350.00,292.31 L350.25,293.99 L350.50,295.47 L350.75,296.73 L351.00,297.75 L351.25,298.51 L351.50,298.99 L351.75,299.19 L352.00,299.11 L352.25,298.74 L352.50,298.09 L352.75,297.17 L353.00,296.00 L353.25,294.61 L353.50,293.00 L353.75,291.22 L354.00,289.30 L354.25,287.26 L354.50,285.15 L354.75,283.00 L355.00,280.85 L355.25,278.74 L355.50,276.70 L355.75,274.78 L356.00,273.00 L356.25,271.39 L356.50,270.00 L356.75,268.83 L357.00,267.91 L357.25,267.26 L357.50,266.89 L357.75,266.81 L358.00,267.01 L358.25,267.49 L358.50,268.25 L358.75,269.27 L359.00,270.53 L359.25,272.01 L359.50,273.69 L359.75,275.53 L360.00,277.50 L360.25,279.58 L360.50,281.71 L360.75,283.86 L361.00,286.00 L361.25,288.09 L361.50,290.08 L361.75,291.96 L362.00,293.67 L362.25,295.19 L362.50,296.50 L362.75,297.57 L363.00,298.38 L363.25,298.92 L363.50,299.18 L363.75,299.15 L364.00,298.83 L364.25,298.24 L364.50,297.38 L364.75,296.26 L365.00,294.90 L365.25,293.34 L365.50,291.59 L365.75,289.69 L366.00,287.68 L366.25,285.58 L366.50,283.43 L366.75,281.28 L367.00,279.16 L367.25,277.10 L367.50,275.15 L367.75,273.34 L368.00,271.70 L368.25,270.26 L368.50,269.04 L368.75,268.07 L369.00,267.37 L369.25,266.94 L369.50,266.80 L369.75,266.94 L370.00,267.37 L370.25,268.07 L370.50,269.04 L370.75,270.26 L371.00,271.70 L371.25,273.34 L371.50,275.15 L371.75,277.10 L372.00,279.16 L372.25,281.28 L372.50,283.43 L372.75,285.58 L373.00,287.68 L373.25,289.69 L373.50,291.59 L373.75,293.34 L374.00,294.90 L374.25,296.26 L374.50,297.38 L374.75,298.24 L375.00,298.83 L375.25,299.15 L375.50,299.18 L375.75,298.92 L376.00,298.38 L376.25,297.57 L376.50,296.50 L376.75,295.19 L377.00,293.67 L377.25,291.96 L377.50,290.08 L377.75,288.09 L378.00,286.00 L378.25,283.86 L378.50,281.71 L378.75,279.58 L379.00,277.50 L379.25,275.53 L379.50,273.69 L379.75,272.01 L380.00,270.53 L380.25,269.27 L380.50,268.25 L380.75,267.49 L381.00,267.01 L381.25,266.81 L381.50,266.89 L381.75,267.26 L382.00,267.91 L382.25,268.83 L382.50,270.00 L382.75,271.39 L383.00,273.00 L383.25,274.78 L383.50,276.70 L383.75,278.74 L384.00,280.85 L384.25,283.00 L384.50,285.15 L384.75,287.26 L385.00,289.30 L385.25,291.22 L385.50,293.00 L385.75,294.61 L386.00,296.00 L386.25,297.17 L386.50,298.09 L386.75,298.74 L387.00,299.11 L387.25,299.19 L387.50,298.99 L387.75,298.51 L388.00,297.75 L388.25,296.73 L388.50,295.47 L388.75,293.99 L389.00,292.31 L389.25,290.47 L389.50,288.50 L389.75,286.42 L390.00,284.29 L390.25,282.14 L390.50,280.00 L390.75,277.91 L391.00,275.92 L391.25,274.04 L391.50,272.33 L391.75,270.81 L392.00,269.50 L392.25,268.43 L392.50,267.62 L392.75,267.08 L393.00,266.82 L393.25,266.85 L393.50,267.17 L393.75,267.76 L394.00,268.62 L394.25,269.74 L394.50,271.10 L394.75,272.66 L395.00,274.41 L395.25,276.31 L395.50,278.32 L395.75,280.42 L396.00,282.57 L396.25,284.72 L396.50,286.84 L396.75,288.90 L397.00,290.85 L397.25,292.66 L397.50,294.30 L397.75,295.74 L398.00,296.96 L398.25,297.93 L398.50,298.63 L398.75,299.06 L399.00,299.20 L399.25,299.06 L399.50,298.63 L399.75,297.93 L400.00,296.96 L400.25,295.74 L400.50,294.30 L400.75,292.66 L401.00,290.85 L401.25,288.90 L401.50,286.84 L401.75,284.72 L402.00,282.57 L402.25,280.42 L402.50,278.32 L402.75,276.31 L403.00,274.41 L403.25,272.66 L403.50,271.10 L403.75,269.74 L404.00,268.62 L404.25,267.76 L404.50,267.17 L404.75,266.85 L405.00,266.82 L405.25,267.08 L405.50,267.62" stroke="#c1272d" stroke-width="1.25" fill="none" clip-path="url(#ce)"/>
<rect x="257.25" y="199.35" width="148.25" height="114.75000000000003" stroke="#231f20" fill="none"/>
<line x1="257.25" y1="215.25" x2="260.25" y2="215.25" stroke="#231f20" stroke-width="1"/>
<text x="251.05" y="219.35" font-size="12" text-anchor="end" fill="#231f20" stroke="#231f20" stroke-width="0.22" >50</text>
<line x1="257.25" y1="231" x2="260.25" y2="231" stroke="#231f20" stroke-width="1"/>
<text x="251.05" y="235.1" font-size="12" text-anchor="end" fill="#231f20" stroke="#231f20" stroke-width="0.22" >0</text>
<line x1="257.25" y1="246.5" x2="260.25" y2="246.5" stroke="#231f20" stroke-width="1"/>
<text x="251.05" y="250.6" font-size="12" text-anchor="end" fill="#231f20" stroke="#231f20" stroke-width="0.22" >&#8722;50</text>
<line x1="257.25" y1="267.5" x2="260.25" y2="267.5" stroke="#231f20" stroke-width="1"/>
<text x="251.05" y="271.6" font-size="12" text-anchor="end" fill="#231f20" stroke="#231f20" stroke-width="0.22" >50</text>
<line x1="257.25" y1="283" x2="260.25" y2="283" stroke="#231f20" stroke-width="1"/>
<text x="251.05" y="287.1" font-size="12" text-anchor="end" fill="#231f20" stroke="#231f20" stroke-width="0.22" >0</text>
<line x1="257.25" y1="298.5" x2="260.25" y2="298.5" stroke="#231f20" stroke-width="1"/>
<text x="251.05" y="302.6" font-size="12" text-anchor="end" fill="#231f20" stroke="#231f20" stroke-width="0.22" >&#8722;50</text>
<line x1="260.6" y1="314.1" x2="260.6" y2="311.1" stroke="#231f20" stroke-width="1"/>
<text x="260.8" y="328.8" font-size="12" text-anchor="middle" fill="#231f20" stroke="#231f20" stroke-width="0.22" >&#8722;20</text>
<line x1="296.1" y1="314.1" x2="296.1" y2="311.1" stroke="#231f20" stroke-width="1"/>
<text x="296.3" y="328.8" font-size="12" text-anchor="middle" fill="#231f20" stroke="#231f20" stroke-width="0.22" >&#8722;10</text>
<line x1="331.6" y1="314.1" x2="331.6" y2="311.1" stroke="#231f20" stroke-width="1"/>
<text x="332.3" y="328.8" font-size="12" text-anchor="middle" fill="#231f20" stroke="#231f20" stroke-width="0.22" >0</text>
<line x1="367.1" y1="314.1" x2="367.1" y2="311.1" stroke="#231f20" stroke-width="1"/>
<text x="367.8" y="328.8" font-size="12" text-anchor="middle" fill="#231f20" stroke="#231f20" stroke-width="0.22" >10</text>
<line x1="402.6" y1="314.1" x2="402.6" y2="311.1" stroke="#231f20" stroke-width="1"/>
<text x="403.3" y="328.8" font-size="12" text-anchor="middle" fill="#231f20" stroke="#231f20" stroke-width="0.22" >20</text>
<rect x="255.75" y="255.4" width="3" height="2.6" fill="#fff"/>
<path d="M255.05,256.6 l4.4,-1.6 M255.05,258.4 l4.4,-1.6" stroke="#231f20" stroke-width="0.7" fill="none"/>
<rect x="404.0" y="255.4" width="3" height="2.6" fill="#fff"/>
<path d="M403.3,256.6 l4.4,-1.6 M403.3,258.4 l4.4,-1.6" stroke="#231f20" stroke-width="0.7" fill="none"/>
<line x1="261" y1="207.2" x2="276" y2="207.2" stroke="#231f20" stroke-width="1.2"/>
<text x="280" y="211" font-size="12" text-anchor="start" fill="#231f20" stroke="#231f20" stroke-width="0.22" ><tspan font-style="italic">V</tspan><tspan font-size="8" dy="2.8">IN</tspan><tspan dy="-2.8" font-size="1">&#8203;</tspan></text>
<line x1="306" y1="207.2" x2="320.8" y2="207.2" stroke="#c1272d" stroke-width="1.2"/>
<text x="325" y="211" font-size="12" text-anchor="start" fill="#231f20" stroke="#231f20" stroke-width="0.22" ><tspan font-style="italic">V</tspan><tspan font-size="8" dy="2.8">OUT</tspan><tspan dy="-2.8" font-size="1">&#8203;</tspan></text>
<text x="218.7" y="228.5" font-size="12" text-anchor="middle" fill="#231f20" stroke="#231f20" stroke-width="0.22" transform="rotate(-90 218.7 228.5)" ><tspan font-style="italic">V</tspan><tspan font-size="8" dy="2.8">IN</tspan><tspan dy="-2.8" font-size="1">&#8203;</tspan> (mV)</text>
<text x="218.7" y="285.5" font-size="12" text-anchor="middle" fill="#231f20" stroke="#231f20" stroke-width="0.22" transform="rotate(-90 218.7 285.5)" ><tspan font-style="italic">V</tspan><tspan font-size="8" dy="2.8">OUT</tspan><tspan dy="-2.8" font-size="1">&#8203;</tspan> (mV)</text>
<text x="332" y="345.6" font-size="12" text-anchor="middle" fill="#231f20" stroke="#231f20" stroke-width="0.22" >Time (ns)</text>
<text x="207" y="192.8" font-size="15" font-weight="bold" fill="#000" transform="translate(207 0) scale(1.18 1) translate(-207 0)">e</text>
<clipPath id="cf"><rect x="503.9" y="199.35" width="148.70000000000005" height="114.75000000000003"/></clipPath>
<path d="M503.90,299.11 L504.80,298.39 L505.70,298.50 L506.60,299.81 L507.50,299.78 L508.40,300.04 L509.30,300.14 L510.20,299.07 L511.10,298.99 L512.00,299.00 L512.90,299.68 L513.80,299.08 L514.70,298.98 L515.60,298.90 L516.50,298.69 L517.40,298.95 L518.30,299.22 L519.20,298.88 L520.10,298.75 L521.00,299.14 L521.90,300.10 L522.80,299.82 L523.70,299.02 L524.60,299.40 L525.50,299.84 L526.40,299.74 L527.30,299.64 L528.20,299.21 L529.10,299.27 L530.00,298.64 L530.90,299.08 L531.80,299.76 L532.70,299.58 L533.60,300.00 L534.50,299.89 L535.40,299.53 L536.30,298.65 L537.20,299.35 L538.10,299.32 L539.00,298.23 L539.90,299.41 L540.80,299.80 L541.70,300.08 L542.60,300.30 L543.50,299.57 L544.40,299.36 L545.30,298.83 L546.20,299.44 L547.10,299.11 L548.00,300.08 L548.90,299.20 L549.80,299.52 L550.70,299.99 L551.60,299.64 L552.50,299.22 L553.40,298.60 L554.30,299.46 L555.20,299.80 L556.10,300.29 L557.00,299.50 L557.90,300.16 L558.80,299.95 L559.70,299.94 L560.60,299.77 L561.50,299.21 L562.40,299.05 L563.30,299.60 L564.20,299.22 L565.10,299.20 L566.00,299.18 L566.90,299.30 L567.80,299.77 L568.70,299.00 L569.60,299.13 L570.50,298.75 L571.40,298.77 L572.30,298.45 L573.20,297.77 L574.10,297.92 L575.00,297.36 L576.30,294.00 L576.80,284.00 L577.30,270.00 L577.80,257.00 L578.40,249.50 L579.20,247.40 L580.25,246.60 L581.00,246.79 L581.90,245.77 L582.80,245.28 L583.70,245.09 L584.60,244.64 L585.50,244.83 L586.40,244.37 L587.30,243.59 L588.20,243.86 L589.10,243.49 L590.00,244.26 L590.90,243.38 L591.80,242.97 L592.70,242.89 L593.60,242.49 L594.50,242.86 L595.40,243.34 L596.30,243.74 L597.20,243.62 L598.10,243.41 L599.00,243.78 L599.90,243.96 L600.80,243.60 L601.70,243.28 L602.60,243.00 L603.50,243.16 L604.40,243.18 L605.30,243.49 L606.20,243.82 L607.10,243.41 L608.00,243.81 L608.90,244.12 L609.80,244.17 L610.70,244.44 L611.60,245.03 L612.50,244.95 L613.40,244.92 L614.30,244.83 L615.20,245.00 L616.10,244.86 L617.00,245.12 L617.90,244.75 L618.80,244.74 L619.70,245.10 L620.60,245.64 L621.50,245.39 L622.40,245.50 L623.30,245.81 L624.20,245.71 L625.10,245.88 L626.00,246.05 L626.90,245.65 L627.80,245.39 L628.70,245.83 L629.60,245.70 L630.50,245.95 L631.40,246.13 L632.30,245.92 L633.20,245.71 L634.10,245.63 L635.00,246.20 L635.90,245.44 L636.80,245.95 L637.70,245.94 L638.60,245.72 L639.50,245.92 L640.40,245.91 L641.30,245.65 L642.20,245.77 L643.10,245.93 L644.00,246.12 L644.90,246.15 L645.80,246.11 L646.70,245.45 L647.60,245.58 L648.50,246.03 L649.40,246.32 L650.30,246.05 L651.20,245.97 L652.10,245.81" stroke="#231f20" stroke-width="1.35" fill="none" stroke-linejoin="round" clip-path="url(#cf)"/>
<path d="M503.90,216.66 L504.80,216.99 L505.70,217.27 L506.60,216.98 L507.50,216.96 L508.40,217.38 L509.30,216.50 L510.20,216.54 L511.10,216.61 L512.00,217.23 L512.90,216.64 L513.80,216.31 L514.70,217.07 L515.60,217.01 L516.50,217.18 L517.40,216.88 L518.30,216.13 L519.20,216.18 L520.10,216.38 L521.00,216.80 L521.90,216.56 L522.80,217.61 L523.70,217.24 L524.60,217.62 L525.50,218.51 L526.40,217.75 L527.30,218.43 L528.20,218.20 L529.10,218.43 L530.00,217.94 L530.90,217.57 L531.80,218.54 L532.70,219.87 L533.60,220.10 L534.50,219.94 L535.40,219.89 L536.30,220.47 L537.20,220.59 L538.10,219.49 L539.00,218.54 L539.90,219.19 L540.80,218.63 L541.70,218.98 L542.60,219.70 L543.50,219.51 L544.40,219.76 L545.30,219.65 L546.20,220.74 L547.10,220.77 L548.00,221.23 L548.90,220.52 L549.80,221.00 L550.70,220.58 L551.60,220.63 L552.50,220.16 L553.40,220.34 L554.30,220.80 L555.20,220.60 L556.10,220.46 L557.00,220.71 L557.90,220.52 L558.80,220.80 L559.70,220.83 L560.60,221.24 L561.50,220.98 L562.40,221.18 L563.30,221.42 L564.20,222.36 L565.10,222.62 L566.00,222.28 L566.90,222.00 L567.80,221.85 L568.70,220.80 L569.60,220.06 L570.50,220.57 L571.40,221.96 L572.30,221.41 L573.20,221.20 L574.10,220.52 L575.00,221.73 L576.20,224.00 L577.50,228.20 L578.80,232.40 L580.00,236.80 L581.20,243.00 L582.50,249.80 L583.70,255.00 L585.00,260.40 L586.20,266.40 L587.50,272.40 L589.30,280.00 L591.25,287.40 L593.00,293.60 L595.00,298.40 L596.80,301.00 L598.75,302.40 L599.50,301.86 L600.40,302.47 L601.30,302.52 L602.20,302.71 L603.10,303.01 L604.00,303.88 L604.90,303.73 L605.80,303.79 L606.70,303.05 L607.60,303.61 L608.50,303.07 L609.40,303.37 L610.30,303.83 L611.20,304.59 L612.10,304.95 L613.00,304.98 L613.90,305.40 L614.80,305.27 L615.70,305.47 L616.60,305.59 L617.50,306.00 L618.40,305.57 L619.30,304.82 L620.20,304.17 L621.10,305.28 L622.00,303.80 L622.90,303.79 L623.80,303.61 L624.70,303.46 L625.60,303.03 L626.50,303.51 L627.40,303.57 L628.30,303.11 L629.20,303.00 L630.10,302.35 L631.00,302.49 L631.90,303.03 L632.80,302.94 L633.70,302.48 L634.60,301.77 L635.50,301.36 L636.40,301.28 L637.30,301.66 L638.20,301.05 L639.10,300.58 L640.00,299.71 L640.90,299.71 L641.80,299.65 L642.70,299.15 L643.60,298.65 L644.50,298.72 L645.40,298.80 L646.30,298.23 L647.20,298.39 L648.10,297.82 L649.00,297.77 L649.90,298.42 L650.80,298.16 L651.70,298.56 L652.60,298.92" stroke="#c1272d" stroke-width="1.25" fill="none" stroke-linejoin="round" clip-path="url(#cf)"/>
<rect x="503.9" y="199.35" width="148.70000000000005" height="114.75000000000003" stroke="#231f20" fill="none"/>
<line x1="503.9" y1="299" x2="506.9" y2="299" stroke="#231f20" stroke-width="1"/>
<text x="499.29999999999995" y="303.1" font-size="12" text-anchor="end" fill="#231f20" stroke="#231f20" stroke-width="0.22" >0.00</text>
<line x1="503.9" y1="277.32" x2="506.9" y2="277.32" stroke="#231f20" stroke-width="1"/>
<text x="499.29999999999995" y="281.42" font-size="12" text-anchor="end" fill="#231f20" stroke="#231f20" stroke-width="0.22" >0.04</text>
<line x1="503.9" y1="255.64" x2="506.9" y2="255.64" stroke="#231f20" stroke-width="1"/>
<text x="499.29999999999995" y="259.74" font-size="12" text-anchor="end" fill="#231f20" stroke="#231f20" stroke-width="0.22" >0.08</text>
<line x1="503.9" y1="233.96" x2="506.9" y2="233.96" stroke="#231f20" stroke-width="1"/>
<text x="499.29999999999995" y="238.06" font-size="12" text-anchor="end" fill="#231f20" stroke="#231f20" stroke-width="0.22" >0.12</text>
<line x1="503.9" y1="212.28" x2="506.9" y2="212.28" stroke="#231f20" stroke-width="1"/>
<text x="499.29999999999995" y="216.38" font-size="12" text-anchor="end" fill="#231f20" stroke="#231f20" stroke-width="0.22" >0.16</text>
<line x1="516.1" y1="314.1" x2="516.1" y2="311.1" stroke="#231f20" stroke-width="1"/>
<text x="516.3000000000001" y="328.8" font-size="12" text-anchor="middle" fill="#231f20" stroke="#231f20" stroke-width="0.22" >&#8722;10</text>
<line x1="547.1" y1="314.1" x2="547.1" y2="311.1" stroke="#231f20" stroke-width="1"/>
<text x="547.3000000000001" y="328.8" font-size="12" text-anchor="middle" fill="#231f20" stroke="#231f20" stroke-width="0.22" >&#8722;5</text>
<line x1="578.1" y1="314.1" x2="578.1" y2="311.1" stroke="#231f20" stroke-width="1"/>
<text x="578.8000000000001" y="328.8" font-size="12" text-anchor="middle" fill="#231f20" stroke="#231f20" stroke-width="0.22" >0</text>
<line x1="609.1" y1="314.1" x2="609.1" y2="311.1" stroke="#231f20" stroke-width="1"/>
<text x="609.8000000000001" y="328.8" font-size="12" text-anchor="middle" fill="#231f20" stroke="#231f20" stroke-width="0.22" >5</text>
<line x1="640.1" y1="314.1" x2="640.1" y2="311.1" stroke="#231f20" stroke-width="1"/>
<text x="640.8000000000001" y="328.8" font-size="12" text-anchor="middle" fill="#231f20" stroke="#231f20" stroke-width="0.22" >10</text>
<line x1="571" y1="207.2" x2="585.3" y2="207.2" stroke="#231f20" stroke-width="1.2"/>
<text x="588.5" y="211" font-size="12" text-anchor="start" fill="#231f20" stroke="#231f20" stroke-width="0.22" ><tspan font-style="italic">V</tspan><tspan font-size="8" dy="2.8">IN</tspan><tspan dy="-2.8" font-size="1">&#8203;</tspan></text>
<line x1="607.8" y1="207.2" x2="622" y2="207.2" stroke="#c1272d" stroke-width="1.2"/>
<text x="625.5" y="211" font-size="12" text-anchor="start" fill="#231f20" stroke="#231f20" stroke-width="0.22" ><tspan font-style="italic">V</tspan><tspan font-size="8" dy="2.8">OUT</tspan><tspan dy="-2.8" font-size="1">&#8203;</tspan></text>
<text x="464.3" y="256" font-size="12" text-anchor="middle" fill="#231f20" stroke="#231f20" stroke-width="0.22" transform="rotate(-90 464.3 256)" >Voltage (V)</text>
<text x="578.5" y="345.6" font-size="12" text-anchor="middle" fill="#231f20" stroke="#231f20" stroke-width="0.22" >Time (ns)</text>
<text x="462" y="192.8" font-size="15" font-weight="bold" fill="#000" transform="translate(462 0) scale(1.18 1) translate(-462 0)">f</text>
</svg>
</body></html>
